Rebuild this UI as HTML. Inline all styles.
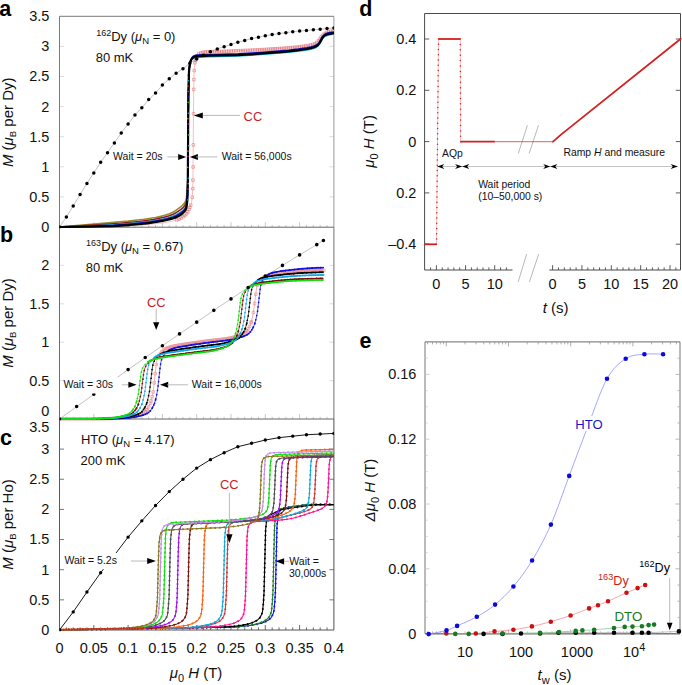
<!DOCTYPE html>
<html><head><meta charset="utf-8"><style>
html,body{margin:0;padding:0;background:#fff;}
svg{display:block;font-family:"Liberation Sans", sans-serif;}
</style></head><body>
<svg width="682" height="685" viewBox="0 0 682 685">
<rect width="682" height="685" fill="#fff"/>
<defs><clipPath id="ca"><rect x="59.5" y="16.3" width="274.4" height="212.29999999999998"/></clipPath><clipPath id="cb"><rect x="59.5" y="227" width="274.4" height="193.5"/></clipPath><clipPath id="cc"><rect x="59.5" y="419" width="274.4" height="212.5"/></clipPath></defs>
<line x1="59.5" y1="196.9" x2="64" y2="196.9" stroke="#d4d4d4" stroke-width="0.8" />
<line x1="333.9" y1="196.9" x2="329.4" y2="196.9" stroke="#d4d4d4" stroke-width="0.8" />
<line x1="59.5" y1="166.8" x2="64" y2="166.8" stroke="#d4d4d4" stroke-width="0.8" />
<line x1="333.9" y1="166.8" x2="329.4" y2="166.8" stroke="#d4d4d4" stroke-width="0.8" />
<line x1="59.5" y1="136.7" x2="64" y2="136.7" stroke="#d4d4d4" stroke-width="0.8" />
<line x1="333.9" y1="136.7" x2="329.4" y2="136.7" stroke="#d4d4d4" stroke-width="0.8" />
<line x1="59.5" y1="106.6" x2="64" y2="106.6" stroke="#d4d4d4" stroke-width="0.8" />
<line x1="333.9" y1="106.6" x2="329.4" y2="106.6" stroke="#d4d4d4" stroke-width="0.8" />
<line x1="59.5" y1="76.5" x2="64" y2="76.5" stroke="#d4d4d4" stroke-width="0.8" />
<line x1="333.9" y1="76.5" x2="329.4" y2="76.5" stroke="#d4d4d4" stroke-width="0.8" />
<line x1="59.5" y1="46.4" x2="64" y2="46.4" stroke="#d4d4d4" stroke-width="0.8" />
<line x1="333.9" y1="46.4" x2="329.4" y2="46.4" stroke="#d4d4d4" stroke-width="0.8" />
<line x1="59.5" y1="380.6" x2="64" y2="380.6" stroke="#d4d4d4" stroke-width="0.8" />
<line x1="333.9" y1="380.6" x2="329.4" y2="380.6" stroke="#d4d4d4" stroke-width="0.8" />
<line x1="59.5" y1="342.2" x2="64" y2="342.2" stroke="#d4d4d4" stroke-width="0.8" />
<line x1="333.9" y1="342.2" x2="329.4" y2="342.2" stroke="#d4d4d4" stroke-width="0.8" />
<line x1="59.5" y1="303.8" x2="64" y2="303.8" stroke="#d4d4d4" stroke-width="0.8" />
<line x1="333.9" y1="303.8" x2="329.4" y2="303.8" stroke="#d4d4d4" stroke-width="0.8" />
<line x1="59.5" y1="265.4" x2="64" y2="265.4" stroke="#d4d4d4" stroke-width="0.8" />
<line x1="333.9" y1="265.4" x2="329.4" y2="265.4" stroke="#d4d4d4" stroke-width="0.8" />
<line x1="59.5" y1="599.85" x2="64" y2="599.85" stroke="#555" stroke-width="0.8" />
<line x1="333.9" y1="599.85" x2="329.4" y2="599.85" stroke="#555" stroke-width="0.8" />
<line x1="59.5" y1="569.7" x2="64" y2="569.7" stroke="#555" stroke-width="0.8" />
<line x1="333.9" y1="569.7" x2="329.4" y2="569.7" stroke="#555" stroke-width="0.8" />
<line x1="59.5" y1="539.55" x2="64" y2="539.55" stroke="#555" stroke-width="0.8" />
<line x1="333.9" y1="539.55" x2="329.4" y2="539.55" stroke="#555" stroke-width="0.8" />
<line x1="59.5" y1="509.4" x2="64" y2="509.4" stroke="#555" stroke-width="0.8" />
<line x1="333.9" y1="509.4" x2="329.4" y2="509.4" stroke="#555" stroke-width="0.8" />
<line x1="59.5" y1="479.25" x2="64" y2="479.25" stroke="#555" stroke-width="0.8" />
<line x1="333.9" y1="479.25" x2="329.4" y2="479.25" stroke="#555" stroke-width="0.8" />
<line x1="59.5" y1="449.1" x2="64" y2="449.1" stroke="#555" stroke-width="0.8" />
<line x1="333.9" y1="449.1" x2="329.4" y2="449.1" stroke="#555" stroke-width="0.8" />
<line x1="66.36" y1="227.2" x2="66.36" y2="225" stroke="#bbb" stroke-width="0.8" />
<line x1="73.22" y1="227.2" x2="73.22" y2="225" stroke="#bbb" stroke-width="0.8" />
<line x1="80.08" y1="227.2" x2="80.08" y2="225" stroke="#bbb" stroke-width="0.8" />
<line x1="86.94" y1="227.2" x2="86.94" y2="225" stroke="#bbb" stroke-width="0.8" />
<line x1="93.8" y1="227.2" x2="93.8" y2="222.2" stroke="#bbb" stroke-width="0.8" />
<line x1="100.66" y1="227.2" x2="100.66" y2="225" stroke="#bbb" stroke-width="0.8" />
<line x1="107.52" y1="227.2" x2="107.52" y2="225" stroke="#bbb" stroke-width="0.8" />
<line x1="114.38" y1="227.2" x2="114.38" y2="225" stroke="#bbb" stroke-width="0.8" />
<line x1="121.24" y1="227.2" x2="121.24" y2="225" stroke="#bbb" stroke-width="0.8" />
<line x1="128.1" y1="227.2" x2="128.1" y2="222.2" stroke="#bbb" stroke-width="0.8" />
<line x1="134.96" y1="227.2" x2="134.96" y2="225" stroke="#bbb" stroke-width="0.8" />
<line x1="141.82" y1="227.2" x2="141.82" y2="225" stroke="#bbb" stroke-width="0.8" />
<line x1="148.68" y1="227.2" x2="148.68" y2="225" stroke="#bbb" stroke-width="0.8" />
<line x1="155.54" y1="227.2" x2="155.54" y2="225" stroke="#bbb" stroke-width="0.8" />
<line x1="162.4" y1="227.2" x2="162.4" y2="222.2" stroke="#bbb" stroke-width="0.8" />
<line x1="169.26" y1="227.2" x2="169.26" y2="225" stroke="#bbb" stroke-width="0.8" />
<line x1="176.12" y1="227.2" x2="176.12" y2="225" stroke="#bbb" stroke-width="0.8" />
<line x1="182.98" y1="227.2" x2="182.98" y2="225" stroke="#bbb" stroke-width="0.8" />
<line x1="189.84" y1="227.2" x2="189.84" y2="225" stroke="#bbb" stroke-width="0.8" />
<line x1="196.7" y1="227.2" x2="196.7" y2="222.2" stroke="#bbb" stroke-width="0.8" />
<line x1="203.56" y1="227.2" x2="203.56" y2="225" stroke="#bbb" stroke-width="0.8" />
<line x1="210.42" y1="227.2" x2="210.42" y2="225" stroke="#bbb" stroke-width="0.8" />
<line x1="217.28" y1="227.2" x2="217.28" y2="225" stroke="#bbb" stroke-width="0.8" />
<line x1="224.14" y1="227.2" x2="224.14" y2="225" stroke="#bbb" stroke-width="0.8" />
<line x1="231" y1="227.2" x2="231" y2="222.2" stroke="#bbb" stroke-width="0.8" />
<line x1="237.86" y1="227.2" x2="237.86" y2="225" stroke="#bbb" stroke-width="0.8" />
<line x1="244.72" y1="227.2" x2="244.72" y2="225" stroke="#bbb" stroke-width="0.8" />
<line x1="251.58" y1="227.2" x2="251.58" y2="225" stroke="#bbb" stroke-width="0.8" />
<line x1="258.44" y1="227.2" x2="258.44" y2="225" stroke="#bbb" stroke-width="0.8" />
<line x1="265.3" y1="227.2" x2="265.3" y2="222.2" stroke="#bbb" stroke-width="0.8" />
<line x1="272.16" y1="227.2" x2="272.16" y2="225" stroke="#bbb" stroke-width="0.8" />
<line x1="279.02" y1="227.2" x2="279.02" y2="225" stroke="#bbb" stroke-width="0.8" />
<line x1="285.88" y1="227.2" x2="285.88" y2="225" stroke="#bbb" stroke-width="0.8" />
<line x1="292.74" y1="227.2" x2="292.74" y2="225" stroke="#bbb" stroke-width="0.8" />
<line x1="299.6" y1="227.2" x2="299.6" y2="222.2" stroke="#bbb" stroke-width="0.8" />
<line x1="306.46" y1="227.2" x2="306.46" y2="225" stroke="#bbb" stroke-width="0.8" />
<line x1="313.32" y1="227.2" x2="313.32" y2="225" stroke="#bbb" stroke-width="0.8" />
<line x1="320.18" y1="227.2" x2="320.18" y2="225" stroke="#bbb" stroke-width="0.8" />
<line x1="327.04" y1="227.2" x2="327.04" y2="225" stroke="#bbb" stroke-width="0.8" />
<line x1="66.36" y1="419" x2="66.36" y2="416.8" stroke="#bbb" stroke-width="0.8" />
<line x1="73.22" y1="419" x2="73.22" y2="416.8" stroke="#bbb" stroke-width="0.8" />
<line x1="80.08" y1="419" x2="80.08" y2="416.8" stroke="#bbb" stroke-width="0.8" />
<line x1="86.94" y1="419" x2="86.94" y2="416.8" stroke="#bbb" stroke-width="0.8" />
<line x1="93.8" y1="419" x2="93.8" y2="414" stroke="#bbb" stroke-width="0.8" />
<line x1="100.66" y1="419" x2="100.66" y2="416.8" stroke="#bbb" stroke-width="0.8" />
<line x1="107.52" y1="419" x2="107.52" y2="416.8" stroke="#bbb" stroke-width="0.8" />
<line x1="114.38" y1="419" x2="114.38" y2="416.8" stroke="#bbb" stroke-width="0.8" />
<line x1="121.24" y1="419" x2="121.24" y2="416.8" stroke="#bbb" stroke-width="0.8" />
<line x1="128.1" y1="419" x2="128.1" y2="414" stroke="#bbb" stroke-width="0.8" />
<line x1="134.96" y1="419" x2="134.96" y2="416.8" stroke="#bbb" stroke-width="0.8" />
<line x1="141.82" y1="419" x2="141.82" y2="416.8" stroke="#bbb" stroke-width="0.8" />
<line x1="148.68" y1="419" x2="148.68" y2="416.8" stroke="#bbb" stroke-width="0.8" />
<line x1="155.54" y1="419" x2="155.54" y2="416.8" stroke="#bbb" stroke-width="0.8" />
<line x1="162.4" y1="419" x2="162.4" y2="414" stroke="#bbb" stroke-width="0.8" />
<line x1="169.26" y1="419" x2="169.26" y2="416.8" stroke="#bbb" stroke-width="0.8" />
<line x1="176.12" y1="419" x2="176.12" y2="416.8" stroke="#bbb" stroke-width="0.8" />
<line x1="182.98" y1="419" x2="182.98" y2="416.8" stroke="#bbb" stroke-width="0.8" />
<line x1="189.84" y1="419" x2="189.84" y2="416.8" stroke="#bbb" stroke-width="0.8" />
<line x1="196.7" y1="419" x2="196.7" y2="414" stroke="#bbb" stroke-width="0.8" />
<line x1="203.56" y1="419" x2="203.56" y2="416.8" stroke="#bbb" stroke-width="0.8" />
<line x1="210.42" y1="419" x2="210.42" y2="416.8" stroke="#bbb" stroke-width="0.8" />
<line x1="217.28" y1="419" x2="217.28" y2="416.8" stroke="#bbb" stroke-width="0.8" />
<line x1="224.14" y1="419" x2="224.14" y2="416.8" stroke="#bbb" stroke-width="0.8" />
<line x1="231" y1="419" x2="231" y2="414" stroke="#bbb" stroke-width="0.8" />
<line x1="237.86" y1="419" x2="237.86" y2="416.8" stroke="#bbb" stroke-width="0.8" />
<line x1="244.72" y1="419" x2="244.72" y2="416.8" stroke="#bbb" stroke-width="0.8" />
<line x1="251.58" y1="419" x2="251.58" y2="416.8" stroke="#bbb" stroke-width="0.8" />
<line x1="258.44" y1="419" x2="258.44" y2="416.8" stroke="#bbb" stroke-width="0.8" />
<line x1="265.3" y1="419" x2="265.3" y2="414" stroke="#bbb" stroke-width="0.8" />
<line x1="272.16" y1="419" x2="272.16" y2="416.8" stroke="#bbb" stroke-width="0.8" />
<line x1="279.02" y1="419" x2="279.02" y2="416.8" stroke="#bbb" stroke-width="0.8" />
<line x1="285.88" y1="419" x2="285.88" y2="416.8" stroke="#bbb" stroke-width="0.8" />
<line x1="292.74" y1="419" x2="292.74" y2="416.8" stroke="#bbb" stroke-width="0.8" />
<line x1="299.6" y1="419" x2="299.6" y2="414" stroke="#bbb" stroke-width="0.8" />
<line x1="306.46" y1="419" x2="306.46" y2="416.8" stroke="#bbb" stroke-width="0.8" />
<line x1="313.32" y1="419" x2="313.32" y2="416.8" stroke="#bbb" stroke-width="0.8" />
<line x1="320.18" y1="419" x2="320.18" y2="416.8" stroke="#bbb" stroke-width="0.8" />
<line x1="327.04" y1="419" x2="327.04" y2="416.8" stroke="#bbb" stroke-width="0.8" />
<line x1="66.36" y1="630" x2="66.36" y2="627.4" stroke="#444" stroke-width="0.8" />
<line x1="73.22" y1="630" x2="73.22" y2="627.4" stroke="#444" stroke-width="0.8" />
<line x1="80.08" y1="630" x2="80.08" y2="627.4" stroke="#444" stroke-width="0.8" />
<line x1="86.94" y1="630" x2="86.94" y2="627.4" stroke="#444" stroke-width="0.8" />
<line x1="93.8" y1="630" x2="93.8" y2="625" stroke="#444" stroke-width="0.8" />
<line x1="100.66" y1="630" x2="100.66" y2="627.4" stroke="#444" stroke-width="0.8" />
<line x1="107.52" y1="630" x2="107.52" y2="627.4" stroke="#444" stroke-width="0.8" />
<line x1="114.38" y1="630" x2="114.38" y2="627.4" stroke="#444" stroke-width="0.8" />
<line x1="121.24" y1="630" x2="121.24" y2="627.4" stroke="#444" stroke-width="0.8" />
<line x1="128.1" y1="630" x2="128.1" y2="625" stroke="#444" stroke-width="0.8" />
<line x1="134.96" y1="630" x2="134.96" y2="627.4" stroke="#444" stroke-width="0.8" />
<line x1="141.82" y1="630" x2="141.82" y2="627.4" stroke="#444" stroke-width="0.8" />
<line x1="148.68" y1="630" x2="148.68" y2="627.4" stroke="#444" stroke-width="0.8" />
<line x1="155.54" y1="630" x2="155.54" y2="627.4" stroke="#444" stroke-width="0.8" />
<line x1="162.4" y1="630" x2="162.4" y2="625" stroke="#444" stroke-width="0.8" />
<line x1="169.26" y1="630" x2="169.26" y2="627.4" stroke="#444" stroke-width="0.8" />
<line x1="176.12" y1="630" x2="176.12" y2="627.4" stroke="#444" stroke-width="0.8" />
<line x1="182.98" y1="630" x2="182.98" y2="627.4" stroke="#444" stroke-width="0.8" />
<line x1="189.84" y1="630" x2="189.84" y2="627.4" stroke="#444" stroke-width="0.8" />
<line x1="196.7" y1="630" x2="196.7" y2="625" stroke="#444" stroke-width="0.8" />
<line x1="203.56" y1="630" x2="203.56" y2="627.4" stroke="#444" stroke-width="0.8" />
<line x1="210.42" y1="630" x2="210.42" y2="627.4" stroke="#444" stroke-width="0.8" />
<line x1="217.28" y1="630" x2="217.28" y2="627.4" stroke="#444" stroke-width="0.8" />
<line x1="224.14" y1="630" x2="224.14" y2="627.4" stroke="#444" stroke-width="0.8" />
<line x1="231" y1="630" x2="231" y2="625" stroke="#444" stroke-width="0.8" />
<line x1="237.86" y1="630" x2="237.86" y2="627.4" stroke="#444" stroke-width="0.8" />
<line x1="244.72" y1="630" x2="244.72" y2="627.4" stroke="#444" stroke-width="0.8" />
<line x1="251.58" y1="630" x2="251.58" y2="627.4" stroke="#444" stroke-width="0.8" />
<line x1="258.44" y1="630" x2="258.44" y2="627.4" stroke="#444" stroke-width="0.8" />
<line x1="265.3" y1="630" x2="265.3" y2="625" stroke="#444" stroke-width="0.8" />
<line x1="272.16" y1="630" x2="272.16" y2="627.4" stroke="#444" stroke-width="0.8" />
<line x1="279.02" y1="630" x2="279.02" y2="627.4" stroke="#444" stroke-width="0.8" />
<line x1="285.88" y1="630" x2="285.88" y2="627.4" stroke="#444" stroke-width="0.8" />
<line x1="292.74" y1="630" x2="292.74" y2="627.4" stroke="#444" stroke-width="0.8" />
<line x1="299.6" y1="630" x2="299.6" y2="625" stroke="#444" stroke-width="0.8" />
<line x1="306.46" y1="630" x2="306.46" y2="627.4" stroke="#444" stroke-width="0.8" />
<line x1="313.32" y1="630" x2="313.32" y2="627.4" stroke="#444" stroke-width="0.8" />
<line x1="320.18" y1="630" x2="320.18" y2="627.4" stroke="#444" stroke-width="0.8" />
<line x1="327.04" y1="630" x2="327.04" y2="627.4" stroke="#444" stroke-width="0.8" />
<line x1="59.5" y1="16.3" x2="59.5" y2="227.2" stroke="#7a7a7a" stroke-width="1" />
<line x1="59.5" y1="227.2" x2="59.5" y2="419" stroke="#6e6e6e" stroke-width="1" />
<line x1="59.5" y1="419" x2="59.5" y2="630" stroke="#5a5a5a" stroke-width="1" />
<line x1="333.9" y1="16.3" x2="333.9" y2="227.2" stroke="#9a9a9a" stroke-width="1" />
<line x1="333.9" y1="227.2" x2="333.9" y2="419" stroke="#707070" stroke-width="1" />
<line x1="333.9" y1="419" x2="333.9" y2="630" stroke="#505050" stroke-width="1" />
<line x1="59.5" y1="16.3" x2="333.9" y2="16.3" stroke="#7a7a7a" stroke-width="1" />
<line x1="59.5" y1="227.2" x2="333.9" y2="227.2" stroke="#666" stroke-width="1" />
<line x1="59.5" y1="419" x2="333.9" y2="419" stroke="#666" stroke-width="1" />
<line x1="59.5" y1="630" x2="333.9" y2="630" stroke="#555" stroke-width="1" />
<g clip-path="url(#ca)">
<path d="M59.5,227 66.36,217.01 86.94,183.42 100.66,162.28 114.38,143.02 121.24,132.91 134.96,115.03 141.82,107.8 148.68,99.56 155.54,93.12 162.4,85.11 169.26,78.67 176.12,73.25 182.98,68.67 189.84,63.26 196.7,59.04 203.56,55.13 210.42,51.82 217.28,48.93 231,44.59 237.86,42.19 251.58,38.57 265.3,35.68 292.74,31.65 333.9,27.98" stroke="#9a9a9a" stroke-width="0.6" fill="none" stroke-linejoin="round" stroke-linecap="round" />
<path d="M59.5,227 86.96,226.84 115.51,226.38 131.62,225.66 148.65,224.38 162.74,222.94 167.69,222.16 172.26,221.21 178.67,219.33 181.05,218.08 184.34,215.94 185.99,214.52 187.09,213.04 188.37,210.61 190.2,206.44 191.48,202.39 192.22,197.36 192.76,188.6 192.95,180.11 193.68,89.4 194.05,74.22 194.41,67.9 195.33,60.47 196.24,57.49 197.71,54.89 198.81,53.96 200.64,52.93 202.28,52.34 203.93,52.09 211.8,51.62 228.46,51.17 245.48,50.44 272.58,48.97 292.53,47.48 307.17,45.7 313.21,44.25 314.68,43.72 316.14,42.87 318.71,40.65 322,35.8 324.2,33.86 325.85,32.75 326.94,32.28 329.87,31.52 333.9,31.05" stroke="#f2a4a4" stroke-width="0.7" fill="none" stroke-linejoin="round" stroke-linecap="round" />
<path d="M175.54,218.68h2.6v2.6h-2.6zM177.74,217.87h2.6v2.6h-2.6zM179.75,216.78h2.6v2.6h-2.6zM181.76,215.5h2.6v2.6h-2.6zM183.59,214.23h2.6v2.6h-2.6zM185.24,212.56h2.6v2.6h-2.6zM186.52,210.42h2.6v2.6h-2.6zM187.62,208.1h2.6v2.6h-2.6zM188.54,205.97h2.6v2.6h-2.6zM189.45,203.74h2.6v2.6h-2.6zM190.92,196.06h2.6v2.6h-2.6zM191.46,187.3h2.6v2.6h-2.6zM191.65,178.81h2.6v2.6h-2.6zM191.83,165.69h2.6v2.6h-2.6zM192.01,143.6h2.6v2.6h-2.6zM192.2,112.4h2.6v2.6h-2.6zM192.38,88.1h2.6v2.6h-2.6zM192.56,78.27h2.6v2.6h-2.6zM192.93,69.24h2.6v2.6h-2.6zM193.66,61.51h2.6v2.6h-2.6zM194.03,59.17h2.6v2.6h-2.6zM194.76,56.65h2.6v2.6h-2.6zM195.86,54.35h2.6v2.6h-2.6zM197.51,52.66h2.6v2.6h-2.6zM199.52,51.54h2.6v2.6h-2.6zM201.72,50.89h2.6v2.6h-2.6zM203.91,50.69h2.6v2.6h-2.6zM206.11,50.54h2.6v2.6h-2.6zM208.49,50.41h2.6v2.6h-2.6zM210.87,50.31h2.6v2.6h-2.6zM213.25,50.23h2.6v2.6h-2.6zM215.63,50.16h2.6v2.6h-2.6zM218.01,50.11h2.6v2.6h-2.6zM220.39,50.05h2.6v2.6h-2.6zM222.77,50h2.6v2.6h-2.6zM225.15,49.93h2.6v2.6h-2.6zM227.53,49.85h2.6v2.6h-2.6zM229.91,49.76h2.6v2.6h-2.6zM232.29,49.66h2.6v2.6h-2.6zM234.67,49.56h2.6v2.6h-2.6zM237.05,49.45h2.6v2.6h-2.6zM239.42,49.35h2.6v2.6h-2.6zM241.8,49.25h2.6v2.6h-2.6zM244.18,49.14h2.6v2.6h-2.6zM246.56,49.03h2.6v2.6h-2.6zM248.94,48.92h2.6v2.6h-2.6zM251.32,48.8h2.6v2.6h-2.6zM253.7,48.68h2.6v2.6h-2.6zM256.08,48.56h2.6v2.6h-2.6zM258.46,48.43h2.6v2.6h-2.6zM260.66,48.31h2.6v2.6h-2.6zM262.86,48.18h2.6v2.6h-2.6zM265.05,48.05h2.6v2.6h-2.6zM267.25,47.91h2.6v2.6h-2.6zM269.45,47.78h2.6v2.6h-2.6zM271.64,47.65h2.6v2.6h-2.6zM273.84,47.51h2.6v2.6h-2.6zM276.04,47.37h2.6v2.6h-2.6zM278.23,47.22h2.6v2.6h-2.6zM280.43,47.06h2.6v2.6h-2.6zM282.63,46.9h2.6v2.6h-2.6zM284.82,46.73h2.6v2.6h-2.6zM287.02,46.55h2.6v2.6h-2.6zM289.22,46.36h2.6v2.6h-2.6zM291.41,46.16h2.6v2.6h-2.6zM293.61,45.94h2.6v2.6h-2.6zM295.81,45.71h2.6v2.6h-2.6zM298,45.47h2.6v2.6h-2.6zM300.2,45.21h2.6v2.6h-2.6zM302.4,44.92h2.6v2.6h-2.6zM304.59,44.61h2.6v2.6h-2.6zM306.79,44.23h2.6v2.6h-2.6zM308.99,43.76h2.6v2.6h-2.6zM311.18,43.18h2.6v2.6h-2.6zM313.38,42.42h2.6v2.6h-2.6zM315.39,41.17h2.6v2.6h-2.6zM317.22,39.57h2.6v2.6h-2.6zM318.5,37.75h2.6v2.6h-2.6zM319.79,35.71h2.6v2.6h-2.6zM321.25,33.98h2.6v2.6h-2.6zM323.08,32.42h2.6v2.6h-2.6zM325.09,31.19h2.6v2.6h-2.6zM327.29,30.53h2.6v2.6h-2.6zM329.49,30.04h2.6v2.6h-2.6zM331.68,29.78h2.6v2.6h-2.6z" stroke="#de6464" stroke-width="0.5" fill="none"/>
<path d="M59.5,227 128.15,221.11 144.07,219.26 155.6,217.44 160.73,216.38 164.94,215.29 168.78,214.02 172.45,212.51 174.09,211.54 181.05,206.65 182.51,205.41 184.16,203.59 185.44,201.38 186.36,198.31 187.09,192.37 187.64,185.51 187.82,179.78 188.37,97.27 188.92,72.84 189.29,68.06 190.2,62.34 190.57,61.08 191.3,59.57 192.03,58.51 192.76,57.82 194.78,56.79 196.79,56.33 209.42,55.7 237.25,55.11 250.79,54.4 286.31,51.58 297.47,50.36 306.99,49 310.84,48.2 314.13,47.26 315.78,46.54 317.43,45.47 318.52,44.46 319.8,42.7 322.55,37.65 323.83,36.25 325.11,35.25 328.41,34.05 333.9,33.16" stroke="#9a8a30" stroke-width="1.6" fill="none" stroke-linejoin="round" stroke-linecap="round" />
<path d="M59.5,227 98.86,224.73 120.64,223.17 139.13,221.39 153.59,219.42 164.21,217.28 168.6,216.01 172.63,214.54 175.01,213.28 180.68,209.68 182.51,208.2 184.34,206.26 185.81,203.58 186.54,200.67 187.27,194.21 187.64,186.98 187.82,179.44 188.37,97.27 188.92,72.84 189.29,68.06 190.2,62.34 190.57,61.08 191.3,59.57 192.03,58.51 192.76,57.82 194.78,56.79 196.79,56.33 209.42,55.7 237.25,55.11 250.79,54.4 286.31,51.58 297.47,50.36 306.99,49 310.84,48.2 314.13,47.26 315.78,46.54 317.43,45.47 318.52,44.46 319.8,42.7 322.55,37.65 323.83,36.25 325.11,35.25 328.41,34.05 333.9,33.16" stroke="#8a1a1a" stroke-width="1.5" fill="none" stroke-linejoin="round" stroke-linecap="round" />
<path d="M59.5,227 96.29,225.68 114.78,224.75 135.47,223.07 151.39,221.14 163.48,218.98 168.42,217.72 172.81,216.3 175.92,214.86 180.13,212.43 182.33,210.76 184.53,208.53 185.81,206.25 186.54,203.64 187.09,199.46 187.46,193.95 187.82,179.18 188.37,97.27 188.92,72.84 189.29,68.06 190.2,62.23 190.75,60.7 192.22,59.11 194.59,57.85 196.61,57.3 209.42,56.66 237.43,56.07 250.79,55.36 286.31,52.54 297.47,51.32 306.99,49.96 310.84,49.16 314.13,48.22 315.78,47.5 317.43,46.43 318.52,45.42 319.8,43.67 322.55,38.61 323.83,37.22 325.11,36.22 328.41,35.02 333.9,34.12" stroke="#10b0e0" stroke-width="1.5" fill="none" stroke-linejoin="round" stroke-linecap="round" />
<path d="M59.5,227 94.83,226.11 113.5,225.38 133.64,223.87 149.56,222.08 162.93,219.86 168.23,218.59 172.99,217.15 176.29,215.75 179.95,213.73 182.33,211.96 184.53,209.79 185.81,207.59 186.54,205.11 187.09,201.06 187.46,195.21 187.82,179.06 188.37,97.27 188.92,72.84 189.47,66.56 190.2,62.44 191.67,58.32 192.4,57.04 192.95,56.5 194.41,55.71 195.69,55.28 200.27,54.89 210.89,54.46 238.53,53.86 259.58,52.56 288.32,50.18 298.2,49.06 306.81,47.82 310.65,47.04 314.13,46.06 315.78,45.33 317.43,44.27 318.52,43.25 319.8,41.5 322.55,36.44 323.83,35.05 325.11,34.05 328.41,32.85 333.9,31.95" stroke="#1010c0" stroke-width="1.6" fill="none" stroke-linejoin="round" stroke-linecap="round" />
<path d="M59.5,227 91.9,226.66 112.77,226.16 129.79,225.03 147.18,223.29 162.38,220.97 168.23,219.68 173.73,218.15 177.02,216.89 179.95,215.31 182.33,213.55 184.71,211.24 185.81,209.38 186.54,207.06 187.27,201.2 187.46,196.88 187.82,178.9 188.37,97.27 188.92,72.84 189.29,68.06 190.2,62.34 190.57,61.08 191.3,59.57 192.03,58.51 192.76,57.82 194.78,56.79 196.79,56.33 209.42,55.7 237.25,55.11 250.79,54.4 286.31,51.58 297.47,50.36 306.99,49 310.84,48.2 314.13,47.26 315.78,46.54 317.43,45.47 318.52,44.46 319.8,42.7 322.55,37.65 323.83,36.25 325.11,35.25 328.41,34.05 333.9,33.16" stroke="#000" stroke-width="2.2" fill="none" stroke-linejoin="round" stroke-linecap="round" />
<path d="M187.93,199.91h0" stroke="#20c020" stroke-width="1.6" stroke-linecap="round" fill="none" />
<path d="M188.24,194.49h0" stroke="#1010e0" stroke-width="1.6" stroke-linecap="round" fill="none" />
<path d="M188.06,189.07h0" stroke="#e010e0" stroke-width="1.6" stroke-linecap="round" fill="none" />
<path d="M188.3,183.66h0" stroke="#e07000" stroke-width="1.6" stroke-linecap="round" fill="none" />
<path d="M188.32,178.24h0" stroke="#00b0e0" stroke-width="1.6" stroke-linecap="round" fill="none" />
<path d="M187.76,172.82h0" stroke="#000" stroke-width="1.6" stroke-linecap="round" fill="none" />
<path d="M187.71,167.4h0" stroke="#20c020" stroke-width="1.6" stroke-linecap="round" fill="none" />
<path d="M188.53,161.98h0" stroke="#1010e0" stroke-width="1.6" stroke-linecap="round" fill="none" />
<path d="M187.95,156.57h0" stroke="#e010e0" stroke-width="1.6" stroke-linecap="round" fill="none" />
<path d="M187.93,151.15h0" stroke="#e07000" stroke-width="1.6" stroke-linecap="round" fill="none" />
<path d="M188.69,145.73h0" stroke="#00b0e0" stroke-width="1.6" stroke-linecap="round" fill="none" />
<path d="M188.16,140.31h0" stroke="#000" stroke-width="1.6" stroke-linecap="round" fill="none" />
<path d="M188.53,134.89h0" stroke="#20c020" stroke-width="1.6" stroke-linecap="round" fill="none" />
<path d="M188.17,129.48h0" stroke="#1010e0" stroke-width="1.6" stroke-linecap="round" fill="none" />
<path d="M188.33,124.06h0" stroke="#e010e0" stroke-width="1.6" stroke-linecap="round" fill="none" />
<path d="M187.84,118.64h0" stroke="#e07000" stroke-width="1.6" stroke-linecap="round" fill="none" />
<path d="M188.33,113.22h0" stroke="#00b0e0" stroke-width="1.6" stroke-linecap="round" fill="none" />
<path d="M188.56,107.8h0" stroke="#000" stroke-width="1.6" stroke-linecap="round" fill="none" />
<path d="M188.22,102.39h0" stroke="#20c020" stroke-width="1.6" stroke-linecap="round" fill="none" />
<path d="M188.43,96.97h0" stroke="#1010e0" stroke-width="1.6" stroke-linecap="round" fill="none" />
<path d="M188.37,91.55h0" stroke="#e010e0" stroke-width="1.6" stroke-linecap="round" fill="none" />
<path d="M187.76,86.13h0" stroke="#e07000" stroke-width="1.6" stroke-linecap="round" fill="none" />
<path d="M188.45,80.71h0" stroke="#00b0e0" stroke-width="1.6" stroke-linecap="round" fill="none" />
<path d="M188.28,75.3h0" stroke="#000" stroke-width="1.6" stroke-linecap="round" fill="none" />
<path d="M59.5,227h0M66.36,217.01h0M73.22,205.93h0M80.08,194.61h0M86.94,183.42h0M93.8,173.06h0M100.66,162.28h0M107.52,152.65h0M114.38,143.02h0M121.24,132.91h0M128.1,124.06h0M134.96,115.03h0M141.82,107.8h0M148.68,99.56h0M155.54,93.12h0M162.4,85.11h0M169.26,78.67h0M176.12,73.25h0M182.98,68.67h0M189.84,63.26h0M196.7,59.04h0M203.56,55.13h0M210.42,51.82h0M217.28,48.93h0M224.14,46.64h0M231,44.59h0M237.86,42.19h0M244.72,40.38h0M251.58,38.57h0M258.44,37.19h0M265.3,35.68h0M272.16,34.6h0M279.02,33.58h0M285.88,32.67h0M292.74,31.65h0M299.6,31.05h0M306.46,30.39h0M313.32,29.78h0M320.18,29.24h0M327.04,28.58h0M333.9,27.98h0" stroke="#000" stroke-width="3.5" stroke-linecap="round" fill="none" />
</g>
<g clip-path="url(#cb)">
<path d="M59.5,419 128.1,369.62 145.25,357.56 213.85,310.33 265.3,276.08 299.6,254.88 316.75,244.66 323.4,240.44" stroke="#9a9a9a" stroke-width="0.6" fill="none" stroke-linejoin="round" stroke-linecap="round" />
<path d="M59.5,419 100.19,418.94 111.74,418.59 124.35,417.89 129.63,417.22 136.25,415.79 140.13,414.61 143.28,413.15 145.24,411.75 147.1,409.5 149.13,406 150.62,402.49 152.07,396.99 153.52,389.28 156.1,365.79 156.96,360.28 158.07,357.25 159.36,354.9 161.9,351.78 164.15,349.62 165.64,348.67 168.28,347.67 171.62,346.68 175.34,345.84 186.53,343.99 199.72,342.09 226.67,338.74 231.03,337.83 236.5,336.39 239.6,335.38 242.23,334.25 244.68,332.81 246.57,330.92 248.75,327.71 250.56,324.01 252.01,319.16 253.51,312.14 256.09,291.41 256.92,286.5 257.92,283.97 259.16,281.88 261.16,279.62 263.39,277.6 265.46,276.32 268.46,275.37 272.95,274.37 278.36,273.58 291.01,272.18 302.01,271.22 311.35,270.67 323.45,270.3" stroke="#f2a8a8" stroke-width="0.9" fill="none"/>
<path d="M58.2,417.7h2.6v2.6h-2.6zM59.92,417.7h2.6v2.6h-2.6zM61.63,417.7h2.6v2.6h-2.6zM63.34,417.7h2.6v2.6h-2.6zM65.06,417.7h2.6v2.6h-2.6zM66.78,417.7h2.6v2.6h-2.6zM68.49,417.7h2.6v2.6h-2.6zM70.2,417.7h2.6v2.6h-2.6zM71.92,417.7h2.6v2.6h-2.6zM73.64,417.7h2.6v2.6h-2.6zM75.35,417.7h2.6v2.6h-2.6zM77.06,417.7h2.6v2.6h-2.6zM78.78,417.7h2.6v2.6h-2.6zM80.5,417.7h2.6v2.6h-2.6zM82.21,417.7h2.6v2.6h-2.6zM83.92,417.7h2.6v2.6h-2.6zM85.64,417.7h2.6v2.6h-2.6zM87.36,417.7h2.6v2.6h-2.6zM89.07,417.7h2.6v2.6h-2.6zM90.79,417.7h2.6v2.6h-2.6zM92.5,417.7h2.6v2.6h-2.6zM94.22,417.69h2.6v2.6h-2.6zM95.93,417.68h2.6v2.6h-2.6zM97.64,417.66h2.6v2.6h-2.6zM99.36,417.63h2.6v2.6h-2.6zM101.08,417.6h2.6v2.6h-2.6zM102.79,417.55h2.6v2.6h-2.6zM104.51,417.51h2.6v2.6h-2.6zM106.22,417.45h2.6v2.6h-2.6zM107.94,417.39h2.6v2.6h-2.6zM109.65,417.32h2.6v2.6h-2.6zM111.36,417.25h2.6v2.6h-2.6zM113.08,417.17h2.6v2.6h-2.6zM114.8,417.08h2.6v2.6h-2.6zM116.51,416.99h2.6v2.6h-2.6zM118.23,416.89h2.6v2.6h-2.6zM119.94,416.79h2.6v2.6h-2.6zM121.66,416.68h2.6v2.6h-2.6zM123.37,416.57h2.6v2.6h-2.6zM125.09,416.4h2.6v2.6h-2.6zM126.8,416.17h2.6v2.6h-2.6zM128.51,415.88h2.6v2.6h-2.6zM130.23,415.55h2.6v2.6h-2.6zM131.94,415.19h2.6v2.6h-2.6zM133.66,414.8h2.6v2.6h-2.6zM135.38,414.38h2.6v2.6h-2.6zM137.09,413.9h2.6v2.6h-2.6zM138.81,413.32h2.6v2.6h-2.6zM140.52,412.6h2.6v2.6h-2.6zM142.23,411.7h2.6v2.6h-2.6zM143.95,410.44h2.6v2.6h-2.6zM145.66,408.4h2.6v2.6h-2.6zM147.38,405.58h2.6v2.6h-2.6zM149.09,401.85h2.6v2.6h-2.6zM150.81,395.5h2.6v2.6h-2.6zM159.18,352.13h2.6v2.6h-2.6zM160.69,350.38h2.6v2.6h-2.6zM162.2,348.87h2.6v2.6h-2.6zM163.71,347.72h2.6v2.6h-2.6zM165.22,347.01h2.6v2.6h-2.6zM166.73,346.45h2.6v2.6h-2.6zM168.23,345.96h2.6v2.6h-2.6zM169.74,345.53h2.6v2.6h-2.6zM171.25,345.14h2.6v2.6h-2.6zM172.76,344.8h2.6v2.6h-2.6zM174.27,344.49h2.6v2.6h-2.6zM175.78,344.21h2.6v2.6h-2.6zM177.29,343.95h2.6v2.6h-2.6zM178.8,343.71h2.6v2.6h-2.6zM180.31,343.46h2.6v2.6h-2.6zM181.82,343.22h2.6v2.6h-2.6zM183.33,342.98h2.6v2.6h-2.6zM184.84,342.75h2.6v2.6h-2.6zM186.34,342.52h2.6v2.6h-2.6zM187.85,342.29h2.6v2.6h-2.6zM189.36,342.07h2.6v2.6h-2.6zM190.87,341.85h2.6v2.6h-2.6zM192.38,341.63h2.6v2.6h-2.6zM193.89,341.42h2.6v2.6h-2.6zM195.4,341.21h2.6v2.6h-2.6zM196.91,341h2.6v2.6h-2.6zM198.42,340.79h2.6v2.6h-2.6zM199.93,340.58h2.6v2.6h-2.6zM201.44,340.38h2.6v2.6h-2.6zM202.95,340.18h2.6v2.6h-2.6zM204.46,339.98h2.6v2.6h-2.6zM205.96,339.78h2.6v2.6h-2.6zM207.47,339.59h2.6v2.6h-2.6zM208.98,339.41h2.6v2.6h-2.6zM210.49,339.23h2.6v2.6h-2.6zM212,339.05h2.6v2.6h-2.6zM213.51,338.88h2.6v2.6h-2.6zM215.02,338.72h2.6v2.6h-2.6zM216.53,338.55h2.6v2.6h-2.6zM218.04,338.38h2.6v2.6h-2.6zM219.55,338.21h2.6v2.6h-2.6zM221.06,338.03h2.6v2.6h-2.6zM222.57,337.85h2.6v2.6h-2.6zM224.07,337.65h2.6v2.6h-2.6zM225.58,337.41h2.6v2.6h-2.6zM227.09,337.12h2.6v2.6h-2.6zM228.6,336.8h2.6v2.6h-2.6zM230.11,336.44h2.6v2.6h-2.6zM231.62,336.06h2.6v2.6h-2.6zM233.13,335.67h2.6v2.6h-2.6zM234.64,335.25h2.6v2.6h-2.6zM236.15,334.81h2.6v2.6h-2.6zM237.66,334.32h2.6v2.6h-2.6zM239.17,333.75h2.6v2.6h-2.6zM240.68,333.08h2.6v2.6h-2.6zM242.19,332.28h2.6v2.6h-2.6zM243.69,331.26h2.6v2.6h-2.6zM245.2,329.71h2.6v2.6h-2.6zM246.71,327.62h2.6v2.6h-2.6zM248.22,325h2.6v2.6h-2.6zM249.73,321.36h2.6v2.6h-2.6zM259.2,279.01h2.6v2.6h-2.6zM260.71,277.49h2.6v2.6h-2.6zM262.22,276.2h2.6v2.6h-2.6zM263.73,275.22h2.6v2.6h-2.6zM265.23,274.63h2.6v2.6h-2.6zM266.74,274.18h2.6v2.6h-2.6zM268.25,273.79h2.6v2.6h-2.6zM269.76,273.44h2.6v2.6h-2.6zM271.27,273.14h2.6v2.6h-2.6zM272.78,272.88h2.6v2.6h-2.6zM274.29,272.65h2.6v2.6h-2.6zM275.8,272.44h2.6v2.6h-2.6zM277.31,272.25h2.6v2.6h-2.6zM278.82,272.07h2.6v2.6h-2.6zM280.33,271.9h2.6v2.6h-2.6zM281.84,271.72h2.6v2.6h-2.6zM283.35,271.55h2.6v2.6h-2.6zM284.85,271.39h2.6v2.6h-2.6zM286.36,271.23h2.6v2.6h-2.6zM287.87,271.07h2.6v2.6h-2.6zM289.38,270.91h2.6v2.6h-2.6zM290.89,270.76h2.6v2.6h-2.6zM292.4,270.62h2.6v2.6h-2.6zM293.91,270.48h2.6v2.6h-2.6zM295.42,270.34h2.6v2.6h-2.6zM296.93,270.22h2.6v2.6h-2.6zM298.44,270.09h2.6v2.6h-2.6zM299.95,269.98h2.6v2.6h-2.6zM301.46,269.87h2.6v2.6h-2.6zM302.96,269.76h2.6v2.6h-2.6zM304.47,269.66h2.6v2.6h-2.6zM305.98,269.57h2.6v2.6h-2.6zM307.49,269.49h2.6v2.6h-2.6zM309,269.42h2.6v2.6h-2.6zM310.51,269.35h2.6v2.6h-2.6zM312.02,269.29h2.6v2.6h-2.6zM313.53,269.24h2.6v2.6h-2.6zM315.04,269.2h2.6v2.6h-2.6zM316.55,269.16h2.6v2.6h-2.6zM318.06,269.12h2.6v2.6h-2.6zM319.57,269.07h2.6v2.6h-2.6zM321.08,269.03h2.6v2.6h-2.6zM322.58,268.99h2.6v2.6h-2.6z" stroke="#e88080" stroke-width="0.55" fill="none"/>
<path d="M145.46,408.69h2.6v2.6h-2.6zM149.79,399.64h2.6v2.6h-2.6zM151.77,390.6h2.6v2.6h-2.6zM152.95,381.54h2.6v2.6h-2.6zM153.94,372.28h2.6v2.6h-2.6zM154.96,363.22h2.6v2.6h-2.6zM157.68,354.2h2.6v2.6h-2.6z" stroke="#e88080" stroke-width="0.55" fill="none"/>
<path d="M245.48,329.37h2.6v2.6h-2.6zM250.06,320.29h2.6v2.6h-2.6zM252.13,311.26h2.6v2.6h-2.6zM253.28,302.19h2.6v2.6h-2.6zM254.42,292.99h2.6v2.6h-2.6zM256.06,283.94h2.6v2.6h-2.6z" stroke="#e88080" stroke-width="0.55" fill="none"/>
<path d="M59.5,419 103.49,418.95 115.59,418.61 128.34,417.92 133.74,417.25 140.54,415.79 144.42,414.61 147.65,413.1 149.51,411.72 151.37,409.43 153.42,405.86 154.81,402.52 156.26,396.98 157.65,389.6 160.19,366.86 161.04,361.29 162.1,358.38 163.37,356.05 165.64,353.22 167.92,350.96 169.52,349.86 171.59,349.03 174.98,347.98 178.83,347.07 200.82,343.65 230.6,339.84 235.05,338.87 240.63,337.33 243.79,336.24 246.42,335.01 248.8,333.5 250.71,331.41 252.89,327.92 254.61,324.11 256.06,318.89 257.5,311.62 260.08,289.7 260.9,284.53 261.86,281.96 263.07,279.77 264.63,277.84 267,275.45 269.07,273.97 271.45,273.07 275.85,271.95 281.11,271.06 293.21,269.63 304.21,268.58 313.55,267.96 323.45,267.61" stroke="#1010e0" stroke-width="0.7" fill="none" stroke-linejoin="round"/>
<path d="M59.5,419 103.49,418.95 115.59,418.61 128.34,417.92 133.74,417.25 140.54,415.79 144.42,414.61 147.65,413.1 149.51,411.72 151.37,409.43 153.42,405.86 154.81,402.52 156.26,396.98 157.65,389.6 160.19,366.86 161.04,361.29 162.1,358.38 163.37,356.05 165.64,353.22 167.92,350.96 169.52,349.86 171.59,349.03 174.98,347.98 178.83,347.07 200.82,343.65 230.6,339.84 235.05,338.87 240.63,337.33 243.79,336.24 246.42,335.01 248.8,333.5 250.71,331.41 252.89,327.92 254.61,324.11 256.06,318.89 257.5,311.62 260.08,289.7 260.9,284.53 261.86,281.96 263.07,279.77 264.63,277.84 267,275.45 269.07,273.97 271.45,273.07 275.85,271.95 281.11,271.06 293.21,269.63 304.21,268.58 313.55,267.96 323.45,267.61" stroke="#1010e0" stroke-width="1.7" fill="none" stroke-linecap="round" stroke-dasharray="0 4.4"/>
<path d="M59.5,419h0M61.22,419h0M62.93,419h0M64.64,419h0M66.36,419h0M68.08,419h0M69.79,419h0M71.5,419h0M73.22,419h0M74.94,419h0M76.65,419h0M78.36,419h0M80.08,419h0M81.8,419h0M83.51,419h0M85.22,419h0M86.94,419h0M88.66,419h0M90.37,419h0M92.09,419h0M93.8,419h0M95.52,419h0M97.23,419h0M98.94,419h0M100.66,418.99h0M102.38,418.97h0M104.09,418.94h0M105.81,418.91h0M107.52,418.87h0M109.23,418.83h0M110.95,418.78h0M112.66,418.72h0M114.38,418.65h0M116.09,418.58h0M117.81,418.51h0M119.53,418.43h0M121.24,418.34h0M122.95,418.25h0M124.67,418.15h0M126.39,418.04h0M128.1,417.94h0M129.81,417.79h0M131.53,417.59h0M133.25,417.33h0M134.96,417.02h0M136.68,416.68h0M138.39,416.3h0M140.11,415.9h0M141.82,415.45h0M143.53,414.93h0M145.25,414.28h0M146.97,413.47h0M148.68,412.44h0M150.4,410.74h0M152.11,408.27h0M153.82,405.03h0M155.54,400.01h0M167.34,351.47h0M168.85,350.27h0M170.36,349.49h0M171.87,348.94h0M173.38,348.44h0M174.89,348h0M176.39,347.61h0M177.9,347.27h0M179.41,346.96h0M180.92,346.68h0M182.43,346.42h0M183.94,346.17h0M185.45,345.93h0M186.96,345.69h0M188.47,345.45h0M189.98,345.22h0M191.49,344.99h0M193,344.76h0M194.5,344.54h0M196.01,344.32h0M197.52,344.11h0M199.03,343.9h0M200.54,343.69h0M202.05,343.48h0M203.56,343.27h0M205.07,343.06h0M206.58,342.85h0M208.09,342.65h0M209.6,342.45h0M211.11,342.25h0M212.62,342.06h0M214.12,341.87h0M215.63,341.68h0M217.14,341.5h0M218.65,341.33h0M220.16,341.16h0M221.67,340.99h0M223.18,340.82h0M224.69,340.64h0M226.2,340.46h0M227.71,340.27h0M229.22,340.07h0M230.73,339.82h0M232.23,339.52h0M233.74,339.19h0M235.25,338.82h0M236.76,338.43h0M238.27,338.02h0M239.78,337.59h0M241.29,337.13h0M242.8,336.61h0M244.31,336.02h0M245.82,335.33h0M247.33,334.5h0M248.84,333.46h0M250.35,331.88h0M251.85,329.72h0M253.36,327h0M254.87,323.31h0M267.22,275.26h0M268.73,274.16h0M270.24,273.47h0M271.75,272.98h0M273.26,272.56h0M274.77,272.19h0M276.28,271.86h0M277.79,271.58h0M279.29,271.33h0M280.8,271.11h0M282.31,270.91h0M283.82,270.72h0M285.33,270.53h0M286.84,270.35h0M288.35,270.18h0M289.86,270h0M291.37,269.83h0M292.88,269.67h0M294.39,269.5h0M295.9,269.35h0M297.4,269.2h0M298.91,269.05h0M300.42,268.91h0M301.93,268.77h0M303.44,268.64h0M304.95,268.52h0M306.46,268.4h0M307.97,268.29h0M309.48,268.19h0M310.99,268.1h0M312.5,268.01h0M314.01,267.93h0M315.52,267.86h0M317.02,267.8h0M318.53,267.75h0M320.04,267.71h0M321.55,267.67h0M323.06,267.62h0" stroke="#1010e0" stroke-width="1.9" stroke-linecap="round" fill="none" />
<path d="M59.5,419 89.74,418.91 112.29,418.04 117.79,417.39 124.61,416.09 128.39,415.03 131.54,413.66 133.74,411.94 135.94,409.11 137.72,405.97 139.09,402.1 141.11,393.3 143.63,373.66 144.55,368.86 145.66,366.37 146.9,364.47 149.3,361.93 151.5,360.08 153.18,359.13 156.05,358.19 159.72,357.27 163.99,356.46 189.83,352.87 211.27,350.29 215.67,349.51 222.38,347.79 226.67,346.36 230.44,344.49 232.51,342.82 234.58,340.08 236.7,336.18 237.74,333.41 238.82,329.38 240.37,321.62 242.91,300.21 243.79,295.16 244.89,292.48 246.16,290.4 248.64,287.64 250.87,285.73 252.22,284.94 253.78,284.38 259.76,282.91 265.34,282.07 278.53,280.58 296.51,279.18 323.45,278.36" stroke="#7a0a0a" stroke-width="0.7" fill="none" stroke-linejoin="round"/>
<path d="M59.5,419 89.74,418.91 112.29,418.04 117.79,417.39 124.61,416.09 128.39,415.03 131.54,413.66 133.74,411.94 135.94,409.11 137.72,405.97 139.09,402.1 141.11,393.3 143.63,373.66 144.55,368.86 145.66,366.37 146.9,364.47 149.3,361.93 151.5,360.08 153.18,359.13 156.05,358.19 159.72,357.27 163.99,356.46 189.83,352.87 211.27,350.29 215.67,349.51 222.38,347.79 226.67,346.36 230.44,344.49 232.51,342.82 234.58,340.08 236.7,336.18 237.74,333.41 238.82,329.38 240.37,321.62 242.91,300.21 243.79,295.16 244.89,292.48 246.16,290.4 248.64,287.64 250.87,285.73 252.22,284.94 253.78,284.38 259.76,282.91 265.34,282.07 278.53,280.58 296.51,279.18 323.45,278.36" stroke="#7a0a0a" stroke-width="1.7" fill="none" stroke-linecap="round" stroke-dasharray="0 4.4"/>
<path d="M59.5,419h0M61.22,419h0M62.93,419h0M64.64,419h0M66.36,419h0M68.08,419h0M69.79,419h0M71.5,419h0M73.22,419h0M74.94,419h0M76.65,419h0M78.36,419h0M80.08,419h0M81.8,419h0M83.51,418.99h0M85.22,418.98h0M86.94,418.96h0M88.66,418.93h0M90.37,418.9h0M92.09,418.87h0M93.8,418.82h0M95.52,418.78h0M97.23,418.72h0M98.94,418.66h0M100.66,418.6h0M102.38,418.53h0M104.09,418.46h0M105.81,418.38h0M107.52,418.29h0M109.23,418.21h0M110.95,418.12h0M112.66,418.01h0M114.38,417.85h0M116.09,417.64h0M117.81,417.39h0M119.53,417.1h0M121.24,416.78h0M122.95,416.44h0M124.67,416.08h0M126.39,415.65h0M128.1,415.13h0M129.81,414.48h0M131.53,413.67h0M133.25,412.42h0M134.96,410.5h0M136.68,407.92h0M138.39,404.3h0M150.74,360.66h0M152.25,359.6h0M153.76,358.92h0M155.27,358.43h0M156.77,357.99h0M158.28,357.6h0M159.79,357.25h0M161.3,356.94h0M162.81,356.66h0M164.32,356.4h0M165.83,356.16h0M167.34,355.94h0M168.85,355.72h0M170.36,355.5h0M171.87,355.28h0M173.38,355.07h0M174.89,354.86h0M176.39,354.65h0M177.9,354.44h0M179.41,354.24h0M180.92,354.05h0M182.43,353.85h0M183.94,353.65h0M185.45,353.45h0M186.96,353.25h0M188.47,353.05h0M189.98,352.85h0M191.49,352.66h0M193,352.46h0M194.5,352.27h0M196.01,352.08h0M197.52,351.9h0M199.03,351.72h0M200.54,351.54h0M202.05,351.37h0M203.56,351.2h0M205.07,351.03h0M206.58,350.85h0M208.09,350.68h0M209.6,350.49h0M211.11,350.31h0M212.62,350.09h0M214.12,349.82h0M215.63,349.51h0M217.14,349.17h0M218.65,348.8h0M220.16,348.4h0M221.67,347.98h0M223.18,347.55h0M224.69,347.08h0M226.2,346.55h0M227.71,345.92h0M229.22,345.19h0M230.73,344.32h0M232.23,343.1h0M233.74,341.31h0M235.25,338.96h0M236.76,336.05h0M238.27,331.57h0M250,286.39h0M251.51,285.31h0M253.02,284.63h0M254.53,284.15h0M256.04,283.73h0M257.55,283.37h0M259.06,283.05h0M260.57,282.77h0M262.08,282.52h0M263.58,282.3h0M265.09,282.1h0M266.6,281.92h0M268.11,281.74h0M269.62,281.56h0M271.13,281.38h0M272.64,281.21h0M274.15,281.04h0M275.66,280.88h0M277.17,280.72h0M278.68,280.57h0M280.19,280.42h0M281.7,280.27h0M283.2,280.13h0M284.71,280h0M286.22,279.87h0M287.73,279.75h0M289.24,279.63h0M290.75,279.52h0M292.26,279.42h0M293.77,279.33h0M295.28,279.24h0M296.79,279.17h0M298.3,279.1h0M299.81,279.04h0M301.31,278.99h0M302.82,278.94h0M304.33,278.9h0M305.84,278.86h0M307.35,278.82h0M308.86,278.77h0M310.37,278.73h0M311.88,278.69h0M313.39,278.65h0M314.9,278.6h0M316.41,278.56h0M317.92,278.52h0M319.43,278.48h0M320.93,278.43h0M322.44,278.39h0" stroke="#7a0a0a" stroke-width="1.9" stroke-linecap="round" fill="none" />
<path d="M59.5,419 96.89,418.93 108.44,418.59 120.54,417.96 125.91,417.3 132.73,415.89 136.56,414.76 139.74,413.31 140.89,412.56 141.98,411.53 144.18,408.56 146.18,404.81 147.52,400.74 149.59,390.96 152.17,368.97 153.1,363.8 154.19,361.16 155.43,359.11 157.86,356.31 159.98,354.37 161.69,353.32 164.61,352.29 168.33,351.28 172.68,350.41 194.23,347.23 219.27,344.09 223.2,343.41 228.37,342.14 233.39,340.63 236.57,339.3 239.24,337.74 241.37,335.54 243.53,332.17 245.13,328.84 246.42,324.6 248.29,315.62 250.87,293.89 251.8,288.65 253.04,285.76 254.49,283.58 257.5,280.44 259.97,278.68 263.92,277.4 268.97,276.33 286.61,274.2 303.11,272.89 323.45,272.22" stroke="#000000" stroke-width="0.7" fill="none" stroke-linejoin="round"/>
<path d="M59.5,419 96.89,418.93 108.44,418.59 120.54,417.96 125.91,417.3 132.73,415.89 136.56,414.76 139.74,413.31 140.89,412.56 141.98,411.53 144.18,408.56 146.18,404.81 147.52,400.74 149.59,390.96 152.17,368.97 153.1,363.8 154.19,361.16 155.43,359.11 157.86,356.31 159.98,354.37 161.69,353.32 164.61,352.29 168.33,351.28 172.68,350.41 194.23,347.23 219.27,344.09 223.2,343.41 228.37,342.14 233.39,340.63 236.57,339.3 239.24,337.74 241.37,335.54 243.53,332.17 245.13,328.84 246.42,324.6 248.29,315.62 250.87,293.89 251.8,288.65 253.04,285.76 254.49,283.58 257.5,280.44 259.97,278.68 263.92,277.4 268.97,276.33 286.61,274.2 303.11,272.89 323.45,272.22" stroke="#000000" stroke-width="1.7" fill="none" stroke-linecap="round" stroke-dasharray="0 4.4"/>
<path d="M59.5,419h0M61.22,419h0M62.93,419h0M64.64,419h0M66.36,419h0M68.08,419h0M69.79,419h0M71.5,419h0M73.22,419h0M74.94,419h0M76.65,419h0M78.36,419h0M80.08,419h0M81.8,419h0M83.51,419h0M85.22,419h0M86.94,419h0M88.66,419h0M90.37,419h0M92.09,418.99h0M93.8,418.98h0M95.52,418.95h0M97.23,418.93h0M98.94,418.89h0M100.66,418.85h0M102.38,418.8h0M104.09,418.75h0M105.81,418.69h0M107.52,418.63h0M109.23,418.56h0M110.95,418.48h0M112.66,418.4h0M114.38,418.31h0M116.09,418.22h0M117.81,418.12h0M119.53,418.02h0M121.24,417.9h0M122.95,417.73h0M124.67,417.49h0M126.39,417.21h0M128.1,416.89h0M129.81,416.55h0M131.53,416.17h0M133.25,415.77h0M134.96,415.29h0M136.68,414.72h0M138.39,414h0M140.11,413.1h0M141.82,411.7h0M143.53,409.56h0M145.25,406.69h0M146.97,402.63h0M159.24,354.98h0M160.75,353.83h0M162.26,353.09h0M163.77,352.56h0M165.28,352.09h0M166.79,351.67h0M168.3,351.29h0M169.81,350.96h0M171.32,350.66h0M172.83,350.39h0M174.34,350.14h0M175.85,349.9h0M177.35,349.66h0M178.86,349.43h0M180.37,349.2h0M181.88,348.98h0M183.39,348.75h0M184.9,348.53h0M186.41,348.32h0M187.92,348.11h0M189.43,347.9h0M190.94,347.69h0M192.45,347.48h0M193.96,347.27h0M195.47,347.06h0M196.97,346.85h0M198.48,346.65h0M199.99,346.44h0M201.5,346.24h0M203.01,346.05h0M204.52,345.85h0M206.03,345.66h0M207.54,345.48h0M209.05,345.29h0M210.56,345.12h0M212.07,344.95h0M213.58,344.78h0M215.08,344.6h0M216.59,344.42h0M218.1,344.24h0M219.61,344.04h0M221.12,343.81h0M222.63,343.52h0M224.14,343.2h0M225.65,342.85h0M227.16,342.46h0M228.67,342.06h0M230.18,341.64h0M231.69,341.19h0M233.2,340.7h0M234.7,340.13h0M236.21,339.47h0M237.72,338.69h0M239.23,337.74h0M240.74,336.31h0M242.25,334.31h0M243.76,331.75h0M245.27,328.46h0M246.78,323.15h0M257.96,280.04h0M259.47,278.96h0M260.98,278.28h0M262.49,277.8h0M264,277.38h0M265.51,277.01h0M267.01,276.69h0M268.52,276.41h0M270.03,276.16h0M271.54,275.94h0M273.05,275.74h0M274.56,275.56h0M276.07,275.38h0M277.58,275.2h0M279.09,275.02h0M280.6,274.85h0M282.11,274.68h0M283.62,274.52h0M285.13,274.36h0M286.63,274.2h0M288.14,274.05h0M289.65,273.91h0M291.16,273.77h0M292.67,273.63h0M294.18,273.5h0M295.69,273.38h0M297.2,273.27h0M298.71,273.16h0M300.22,273.06h0M301.73,272.96h0M303.24,272.88h0M304.74,272.8h0M306.25,272.73h0M307.76,272.67h0M309.27,272.62h0M310.78,272.58h0M312.29,272.53h0M313.8,272.49h0M315.31,272.45h0M316.82,272.41h0M318.33,272.36h0M319.84,272.32h0M321.35,272.28h0M322.86,272.24h0" stroke="#000000" stroke-width="1.9" stroke-linecap="round" fill="none" />
<path d="M59.5,419 92.49,418.93 104.04,418.59 116.14,417.97 121.46,417.31 128.28,415.94 132.01,414.85 135.16,413.43 137.38,411.67 139.56,408.78 141.44,405.32 142.82,401.29 144.83,392.13 147.42,370.93 148.35,365.87 149.43,363.31 150.7,361.28 153.16,358.55 155.3,356.67 156.96,355.69 160.01,354.65 163.76,353.68 168.08,352.84 193.68,349.2 215.67,346.54 219.69,345.81 226.48,344.07 230.8,342.63 234.73,340.65 236.7,338.97 238.71,336.25 240.75,332.5 241.82,329.64 242.91,325.56 244.45,317.72 246.94,296.75 247.82,291.62 248.91,288.95 250.15,286.89 252.52,284.23 254.71,282.29 257.07,281.05 262.97,279.5 268.35,278.63 279.57,277.32 289.91,276.33 299.26,275.68 323.45,274.91" stroke="#10a8e8" stroke-width="0.7" fill="none" stroke-linejoin="round"/>
<path d="M59.5,419 92.49,418.93 104.04,418.59 116.14,417.97 121.46,417.31 128.28,415.94 132.01,414.85 135.16,413.43 137.38,411.67 139.56,408.78 141.44,405.32 142.82,401.29 144.83,392.13 147.42,370.93 148.35,365.87 149.43,363.31 150.7,361.28 153.16,358.55 155.3,356.67 156.96,355.69 160.01,354.65 163.76,353.68 168.08,352.84 193.68,349.2 215.67,346.54 219.69,345.81 226.48,344.07 230.8,342.63 234.73,340.65 236.7,338.97 238.71,336.25 240.75,332.5 241.82,329.64 242.91,325.56 244.45,317.72 246.94,296.75 247.82,291.62 248.91,288.95 250.15,286.89 252.52,284.23 254.71,282.29 257.07,281.05 262.97,279.5 268.35,278.63 279.57,277.32 289.91,276.33 299.26,275.68 323.45,274.91" stroke="#10a8e8" stroke-width="1.7" fill="none" stroke-linecap="round" stroke-dasharray="0 4.4"/>
<path d="M59.5,419h0M61.22,419h0M62.93,419h0M64.64,419h0M66.36,419h0M68.08,419h0M69.79,419h0M71.5,419h0M73.22,419h0M74.94,419h0M76.65,419h0M78.36,419h0M80.08,419h0M81.8,419h0M83.51,419h0M85.22,419h0M86.94,418.99h0M88.66,418.98h0M90.37,418.96h0M92.09,418.94h0M93.8,418.9h0M95.52,418.87h0M97.23,418.82h0M98.94,418.77h0M100.66,418.72h0M102.38,418.66h0M104.09,418.59h0M105.81,418.52h0M107.52,418.44h0M109.23,418.36h0M110.95,418.27h0M112.66,418.18h0M114.38,418.08h0M116.09,417.98h0M117.81,417.82h0M119.53,417.61h0M121.24,417.35h0M122.95,417.05h0M124.67,416.72h0M126.39,416.37h0M128.1,415.99h0M129.81,415.55h0M131.53,415.02h0M133.25,414.36h0M134.96,413.54h0M136.68,412.36h0M138.39,410.47h0M140.11,407.87h0M141.82,404.4h0M154.51,357.29h0M156.02,356.18h0M157.53,355.47h0M159.04,354.95h0M160.55,354.49h0M162.06,354.08h0M163.57,353.72h0M165.08,353.39h0M166.58,353.1h0M168.09,352.84h0M169.6,352.59h0M171.11,352.36h0M172.62,352.13h0M174.13,351.9h0M175.64,351.68h0M177.15,351.46h0M178.66,351.24h0M180.17,351.02h0M181.68,350.81h0M183.19,350.61h0M184.7,350.41h0M186.2,350.2h0M187.71,350h0M189.22,349.8h0M190.73,349.59h0M192.24,349.39h0M193.75,349.19h0M195.26,348.99h0M196.77,348.8h0M198.28,348.6h0M199.79,348.41h0M201.3,348.23h0M202.81,348.05h0M204.31,347.87h0M205.82,347.7h0M207.33,347.53h0M208.84,347.36h0M210.35,347.18h0M211.86,347.01h0M213.37,346.83h0M214.88,346.64h0M216.39,346.43h0M217.9,346.17h0M219.41,345.87h0M220.92,345.54h0M222.43,345.17h0M223.93,344.78h0M225.44,344.36h0M226.95,343.93h0M228.46,343.47h0M229.97,342.95h0M231.48,342.35h0M232.99,341.64h0M234.5,340.8h0M236.01,339.67h0M237.52,337.99h0M239.03,335.74h0M240.54,332.95h0M242.04,328.88h0M254.05,282.81h0M255.56,281.73h0M257.07,281.05h0M258.58,280.58h0M260.09,280.16h0M261.6,279.79h0M263.1,279.47h0M264.61,279.19h0M266.12,278.95h0M267.63,278.73h0M269.14,278.53h0M270.65,278.35h0M272.16,278.17h0M273.67,277.99h0M275.18,277.81h0M276.69,277.64h0M278.2,277.47h0M279.71,277.31h0M281.22,277.15h0M282.72,276.99h0M284.23,276.84h0M285.74,276.7h0M287.25,276.56h0M288.76,276.43h0M290.27,276.3h0M291.78,276.18h0M293.29,276.06h0M294.8,275.95h0M296.31,275.85h0M297.82,275.76h0M299.33,275.68h0M300.83,275.6h0M302.34,275.53h0M303.85,275.47h0M305.36,275.42h0M306.87,275.37h0M308.38,275.33h0M309.89,275.29h0M311.4,275.25h0M312.91,275.2h0M314.42,275.16h0M315.93,275.12h0M317.44,275.08h0M318.95,275.03h0M320.45,274.99h0M321.96,274.95h0M323.47,274.91h0" stroke="#10a8e8" stroke-width="1.9" stroke-linecap="round" fill="none" />
<path d="M59.5,419 87.54,418.91 109.54,418.06 114.49,417.51 120.63,416.41 124.41,415.5 127.46,414.41 129.63,413.26 131.59,411.44 133.72,408.5 135.37,405.32 136.82,400.77 138.27,394.39 140.89,374.64 141.73,370.11 142.82,367.63 144.11,365.65 146.59,363.07 148.81,361.25 150.47,360.34 153.52,359.37 161.46,357.68 176.08,355.61 211.82,351.08 216.77,349.93 222.43,348.3 225.74,346.97 228.55,345.4 230.7,343.3 232.87,340.03 234.55,336.65 235.88,332.4 237.83,323.02 240.37,301.73 241.3,296.53 242.5,293.75 243.94,291.55 246.89,288.47 249.32,286.7 253.51,285.32 258.95,284.21 280.01,281.79 295.41,280.72 323.45,279.9" stroke="#10e010" stroke-width="0.7" fill="none" stroke-linejoin="round"/>
<path d="M59.5,419 87.54,418.91 109.54,418.06 114.49,417.51 120.63,416.41 124.41,415.5 127.46,414.41 129.63,413.26 131.59,411.44 133.72,408.5 135.37,405.32 136.82,400.77 138.27,394.39 140.89,374.64 141.73,370.11 142.82,367.63 144.11,365.65 146.59,363.07 148.81,361.25 150.47,360.34 153.52,359.37 161.46,357.68 176.08,355.61 211.82,351.08 216.77,349.93 222.43,348.3 225.74,346.97 228.55,345.4 230.7,343.3 232.87,340.03 234.55,336.65 235.88,332.4 237.83,323.02 240.37,301.73 241.3,296.53 242.5,293.75 243.94,291.55 246.89,288.47 249.32,286.7 253.51,285.32 258.95,284.21 280.01,281.79 295.41,280.72 323.45,279.9" stroke="#10e010" stroke-width="1.7" fill="none" stroke-linecap="round" stroke-dasharray="0 4.4"/>
<path d="M59.5,419h0M61.22,419h0M62.93,419h0M64.64,419h0M66.36,419h0M68.08,419h0M69.79,419h0M71.5,419h0M73.22,419h0M74.94,419h0M76.65,419h0M78.36,419h0M80.08,419h0M81.8,418.99h0M83.51,418.97h0M85.22,418.95h0M86.94,418.92h0M88.66,418.88h0M90.37,418.84h0M92.09,418.8h0M93.8,418.75h0M95.52,418.69h0M97.23,418.63h0M98.94,418.57h0M100.66,418.5h0M102.38,418.42h0M104.09,418.34h0M105.81,418.26h0M107.52,418.17h0M109.23,418.08h0M110.95,417.94h0M112.66,417.76h0M114.38,417.53h0M116.09,417.26h0M117.81,416.96h0M119.53,416.63h0M121.24,416.29h0M122.95,415.9h0M124.67,415.42h0M126.39,414.84h0M128.1,414.12h0M129.81,413.13h0M131.53,411.51h0M133.25,409.24h0M134.96,406.28h0M136.68,401.3h0M147.99,361.85h0M149.5,360.81h0M151.01,360.15h0M152.52,359.66h0M154.03,359.23h0M155.54,358.84h0M157.05,358.5h0M158.56,358.19h0M160.07,357.92h0M161.58,357.66h0M163.09,357.43h0M164.6,357.21h0M166.1,356.99h0M167.61,356.77h0M169.12,356.56h0M170.63,356.34h0M172.14,356.14h0M173.65,355.93h0M175.16,355.73h0M176.67,355.53h0M178.18,355.33h0M179.69,355.14h0M181.2,354.94h0M182.71,354.75h0M184.21,354.55h0M185.72,354.35h0M187.23,354.16h0M188.74,353.97h0M190.25,353.77h0M191.76,353.58h0M193.27,353.4h0M194.78,353.21h0M196.29,353.03h0M197.8,352.86h0M199.31,352.69h0M200.82,352.52h0M202.33,352.35h0M203.83,352.17h0M205.34,352h0M206.85,351.82h0M208.36,351.63h0M209.87,351.42h0M211.38,351.16h0M212.89,350.86h0M214.4,350.52h0M215.91,350.15h0M217.42,349.76h0M218.93,349.35h0M220.44,348.92h0M221.94,348.46h0M223.45,347.93h0M224.96,347.33h0M226.47,346.61h0M227.98,345.77h0M229.49,344.62h0M231,342.92h0M232.51,340.65h0M234.02,337.84h0M235.53,333.69h0M247.46,287.97h0M248.97,286.89h0M250.48,286.22h0M251.99,285.74h0M253.5,285.32h0M255.01,284.96h0M256.52,284.64h0M258.03,284.36h0M259.54,284.12h0M261.05,283.9h0M262.56,283.7h0M264.07,283.52h0M265.57,283.34h0M267.08,283.16h0M268.59,282.98h0M270.1,282.81h0M271.61,282.65h0M273.12,282.48h0M274.63,282.32h0M276.14,282.17h0M277.65,282.02h0M279.16,281.87h0M280.67,281.73h0M282.18,281.6h0M283.68,281.47h0M285.19,281.35h0M286.7,281.24h0M288.21,281.13h0M289.72,281.03h0M291.23,280.94h0M292.74,280.85h0M294.25,280.77h0M295.76,280.7h0M297.27,280.64h0M298.78,280.59h0M300.29,280.55h0M301.8,280.51h0M303.3,280.46h0M304.81,280.42h0M306.32,280.38h0M307.83,280.34h0M309.34,280.3h0M310.85,280.25h0M312.36,280.21h0M313.87,280.17h0M315.38,280.13h0M316.89,280.08h0M318.4,280.04h0M319.91,280h0M321.41,279.96h0M322.92,279.92h0" stroke="#10e010" stroke-width="1.9" stroke-linecap="round" fill="none" />
<path d="M59.5,419h0M76.65,406.56h0M93.8,394.27h0M110.95,381.91h0M128.1,369.62h0M145.25,357.56h0M162.4,345.81h0M179.55,333.91h0M196.7,322.16h0M213.85,310.33h0M231,298.88h0M248.15,287.52h0M265.3,276.08h0M282.45,265.4h0M299.6,254.88h0M316.75,244.66h0M323.4,240.44h0" stroke="#000" stroke-width="3.6" stroke-linecap="round" fill="none" />
</g>
<g clip-path="url(#cc)">
<path d="M59.5,630 236.69,626.86 244.49,626.24 253.3,624.94 260.35,623.54 265.03,621.89 268.93,619.68 270.09,618.7 271.09,617.53 272.23,615.65 273.29,613.22 273.73,611.78 274.1,609.49 274.86,601.17 275.44,590.8 276.99,526.03 277.89,516.19 278.62,513.34 279.44,511.42 280.07,510.59 281.44,509.43 282.95,508.51 284.06,508.08 290.95,506.9 307.34,504.58 333.9,504.58" stroke="#1010ff" stroke-width="1.1" fill="none" stroke-linejoin="round"/>
<path d="M59.5,630 236.69,626.86 244.49,626.24 253.3,624.94 260.35,623.54 265.03,621.89 268.93,619.68 270.09,618.7 271.09,617.53 272.23,615.65 273.29,613.22 273.73,611.78 274.1,609.49 274.86,601.17 275.44,590.8 276.99,526.03 277.89,516.19 278.62,513.34 279.44,511.42 280.07,510.59 281.44,509.43 282.95,508.51 284.06,508.08 290.95,506.9 307.34,504.58 333.9,504.58" stroke="#1010ff" stroke-width="2" fill="none" stroke-linecap="round" stroke-dasharray="0 4.6"/>
<path d="M59.5,630 234.27,626.91 242.07,626.28 250.89,624.97 257.9,623.58 262.58,621.94 266.43,619.75 268.56,617.68 269.66,615.92 270.71,613.62 271.21,612.13 271.59,609.94 272.36,601.87 272.95,591.63 274.53,527.15 274.99,521.26 275.48,517.51 276.45,514.04 277.45,511.85 279.06,509.84 280.25,509.03 281.38,508.59 289.09,507.19 307.34,504.58 333.9,504.58" stroke="#208020" stroke-width="1.1" fill="none" stroke-linejoin="round"/>
<path d="M59.5,630 234.27,626.91 242.07,626.28 250.89,624.97 257.9,623.58 262.58,621.94 266.43,619.75 268.56,617.68 269.66,615.92 270.71,613.62 271.21,612.13 271.59,609.94 272.36,601.87 272.95,591.63 274.53,527.15 274.99,521.26 275.48,517.51 276.45,514.04 277.45,511.85 279.06,509.84 280.25,509.03 281.38,508.59 289.09,507.19 307.34,504.58 333.9,504.58" stroke="#208020" stroke-width="2" fill="none" stroke-linecap="round" stroke-dasharray="0 4.6"/>
<path d="M59.5,630 225.46,627.06 233.35,626.42 242.28,625.1 249.07,623.75 253.79,622.1 257.59,619.96 259.7,617.9 260.82,616.12 261.84,613.85 262.32,612.43 262.69,610.29 263.42,602.72 264.03,592.44 265.61,529.75 266.5,520.93 267.22,518.51 268.1,516.72 269.26,515.55 271.16,514.23 275.45,512.54 278.64,510.38 280.37,509.94 291.22,508.07 316.08,504.58 333.9,504.58" stroke="#000000" stroke-width="1.1" fill="none" stroke-linejoin="round"/>
<path d="M59.5,630 225.46,627.06 233.35,626.42 242.28,625.1 249.07,623.75 253.79,622.1 257.59,619.96 259.7,617.9 260.82,616.12 261.84,613.85 262.32,612.43 262.69,610.29 263.42,602.72 264.03,592.44 265.61,529.75 266.5,520.93 267.22,518.51 268.1,516.72 269.26,515.55 271.16,514.23 275.45,512.54 278.64,510.38 280.37,509.94 291.22,508.07 316.08,504.58 333.9,504.58" stroke="#000000" stroke-width="2" fill="none" stroke-linecap="round" stroke-dasharray="0 4.6"/>
<path d="M59.5,630 208.06,627.34 217.79,626.42 229.42,624.51 234.46,623.03 238.86,620.82 240.08,619.91 241.09,618.86 242.83,616.04 243.84,613.43 244.49,609.01 245.22,600.22 245.59,592.79 247.06,536.59 247.88,528.34 248.43,526.31 249.22,524.56 249.99,523.56 251.09,522.79 252.55,522.03 253.88,521.66 279.35,520.16 287.32,519.26 292.84,518.22 299.21,516.47 316.04,510.94 321.32,508.87 323.75,507.39 325.22,505.91 326.2,504.42 326.87,501.76 327.52,497.55 328.09,490.15 329.1,467.06 329.38,463.3 329.83,460.37 330.39,458.42 331.21,457.21 332.22,456.38 333.9,455.77" stroke="#ff1493" stroke-width="1.1" fill="none" stroke-linejoin="round"/>
<path d="M59.5,630 208.06,627.34 217.79,626.42 229.42,624.51 234.46,623.03 238.86,620.82 240.08,619.91 241.09,618.86 242.83,616.04 243.84,613.43 244.49,609.01 245.22,600.22 245.59,592.79 247.06,536.59 247.88,528.34 248.43,526.31 249.22,524.56 249.99,523.56 251.09,522.79 252.55,522.03 253.88,521.66 279.35,520.16 287.32,519.26 292.84,518.22 299.21,516.47 316.04,510.94 321.32,508.87 323.75,507.39 325.22,505.91 326.2,504.42 326.87,501.76 327.52,497.55 328.09,490.15 329.1,467.06 329.38,463.3 329.83,460.37 330.39,458.42 331.21,457.21 332.22,456.38 333.9,455.77" stroke="#ff1493" stroke-width="2" fill="none" stroke-linecap="round" stroke-dasharray="0 4.6"/>
<path d="M59.5,630 189.28,627.65 198.88,626.72 210.26,624.84 215.22,623.37 219.62,621.17 221.79,619.3 223.53,616.56 224.58,614 225.22,609.87 226.32,594.73 227.85,536.85 228.71,528.4 229.35,526.22 230.23,524.45 230.91,523.7 232.29,522.8 233.57,522.2 234.76,521.9 262.38,520.39 270.58,519.59 277.22,518.59 282.96,517.31 302.11,512.3 307.09,510.66 309.9,509.3 311.5,507.95 312.83,506.22 313.42,504.27 314.03,500.83 314.76,493.22 316.04,465.38 316.53,461.74 317.15,459.41 317.92,458.24 318.8,457.46 321.77,456.44 323.29,456.25 333.9,455.97" stroke="#d03838" stroke-width="1.1" fill="none" stroke-linejoin="round"/>
<path d="M59.5,630 189.28,627.65 198.88,626.72 210.26,624.84 215.22,623.37 219.62,621.17 221.79,619.3 223.53,616.56 224.58,614 225.22,609.87 226.32,594.73 227.85,536.85 228.71,528.4 229.35,526.22 230.23,524.45 230.91,523.7 232.29,522.8 233.57,522.2 234.76,521.9 262.38,520.39 270.58,519.59 277.22,518.59 282.96,517.31 302.11,512.3 307.09,510.66 309.9,509.3 311.5,507.95 312.83,506.22 313.42,504.27 314.03,500.83 314.76,493.22 316.04,465.38 316.53,461.74 317.15,459.41 317.92,458.24 318.8,457.46 321.77,456.44 323.29,456.25 333.9,455.97" stroke="#d03838" stroke-width="2" fill="none" stroke-linecap="round" stroke-dasharray="0 4.6"/>
<path d="M59.5,630 186.31,627.7 195.88,626.76 207.23,624.88 212.19,623.41 216.56,621.21 218.76,619.29 220.51,616.5 221.52,613.96 222.16,609.71 222.89,601.09 223.26,594.12 224.76,536.97 225.65,528.4 226.32,526.2 227.21,524.5 227.85,523.82 229.32,522.87 230.54,522.31 231.7,522.04 260.99,520.49 269.28,519.74 274.93,518.88 281.93,517.25 295.32,513.42 300.77,511.53 304.34,509.83 306.04,508.41 307.51,506.51 308.08,504.71 308.65,501.53 309.44,493.8 310.76,464.54 311.27,460.66 311.91,458.31 312.74,457.1 313.61,456.36 315.26,455.71 316.96,455.29 333.9,454.77" stroke="#10a8e0" stroke-width="1.1" fill="none" stroke-linejoin="round"/>
<path d="M59.5,630 186.31,627.7 195.88,626.76 207.23,624.88 212.19,623.41 216.56,621.21 218.76,619.29 220.51,616.5 221.52,613.96 222.16,609.71 222.89,601.09 223.26,594.12 224.76,536.97 225.65,528.4 226.32,526.2 227.21,524.5 227.85,523.82 229.32,522.87 230.54,522.31 231.7,522.04 260.99,520.49 269.28,519.74 274.93,518.88 281.93,517.25 295.32,513.42 300.77,511.53 304.34,509.83 306.04,508.41 307.51,506.51 308.08,504.71 308.65,501.53 309.44,493.8 310.76,464.54 311.27,460.66 311.91,458.31 312.74,457.1 313.61,456.36 315.26,455.71 316.96,455.29 333.9,454.77" stroke="#10a8e0" stroke-width="2" fill="none" stroke-linecap="round" stroke-dasharray="0 4.6"/>
<path d="M59.5,630 166.54,628.02 175.98,627.05 187.05,625.2 192,623.69 196.31,621.48 197.5,620.57 198.51,619.49 200.26,616.59 201.17,614.17 201.82,609.75 202.55,600.95 202.92,593.52 204.39,537.28 205.3,528.54 206.04,526.28 206.96,524.64 207.6,524.02 209.16,523.05 211.45,522.32 254.71,520.3 260.07,519.85 265.38,519.16 272.42,517.82 279.38,516.01 284.2,514.22 288.74,511.92 290.95,510.29 292.75,508.1 293.61,506.53 294.25,503.63 294.98,498.05 295.32,493.72 296.79,459.26 297.55,454.47 297.89,453.47 298.53,452.41 299.21,451.66 299.93,451.2 301.86,450.49 303.6,450.15 333.9,449.34" stroke="#ff6010" stroke-width="1.1" fill="none" stroke-linejoin="round"/>
<path d="M59.5,630 166.54,628.02 175.98,627.05 187.05,625.2 192,623.69 196.31,621.48 197.5,620.57 198.51,619.49 200.26,616.59 201.17,614.17 201.82,609.75 202.55,600.95 202.92,593.52 204.39,537.28 205.3,528.54 206.04,526.28 206.96,524.64 207.6,524.02 209.16,523.05 211.45,522.32 254.71,520.3 260.07,519.85 265.38,519.16 272.42,517.82 279.38,516.01 284.2,514.22 288.74,511.92 290.95,510.29 292.75,508.1 293.61,506.53 294.25,503.63 294.98,498.05 295.32,493.72 296.79,459.26 297.55,454.47 297.89,453.47 298.53,452.41 299.21,451.66 299.93,451.2 301.86,450.49 303.6,450.15 333.9,449.34" stroke="#ff6010" stroke-width="2" fill="none" stroke-linecap="round" stroke-dasharray="0 4.6"/>
<path d="M59.5,630 152.09,628.25 161.31,627.28 172.1,625.47 176.95,624.01 181.21,621.87 183.37,620.01 185.12,617.28 186.16,614.72 186.81,610.59 187.91,595.46 188.92,553.25 189.47,537.29 190.39,529 191.21,526.63 192.18,525.08 194.39,523.61 196.5,522.98 246.32,520.74 256.6,519.84 263.88,518.79 270.61,517.48 274.86,516.25 278.8,514.6 281.31,513.16 283.19,511.43 284.67,509.3 285.32,507 286.06,502.26 286.51,497.6 288.01,465.39 288.84,460.75 289.26,459.81 290.03,458.78 290.83,458.14 291.93,457.68 294.98,457.01 333.9,455.97" stroke="#801010" stroke-width="1.1" fill="none" stroke-linejoin="round"/>
<path d="M59.5,630 152.09,628.25 161.31,627.28 172.1,625.47 176.95,624.01 181.21,621.87 183.37,620.01 185.12,617.28 186.16,614.72 186.81,610.59 187.91,595.46 188.92,553.25 189.47,537.29 190.39,529 191.21,526.63 192.18,525.08 194.39,523.61 196.5,522.98 246.32,520.74 256.6,519.84 263.88,518.79 270.61,517.48 274.86,516.25 278.8,514.6 281.31,513.16 283.19,511.43 284.67,509.3 285.32,507 286.06,502.26 286.51,497.6 288.01,465.39 288.84,460.75 289.26,459.81 290.03,458.78 290.83,458.14 291.93,457.68 294.98,457.01 333.9,455.97" stroke="#801010" stroke-width="2" fill="none" stroke-linecap="round" stroke-dasharray="0 4.6"/>
<path d="M59.5,630 136.49,628.65 141.98,628.4 151.08,627.4 161.54,625.63 166.32,624.18 170.54,622.05 172.67,620.22 174.4,617.53 175.48,614.86 176.08,611.05 176.8,602.89 177.23,595.19 178.24,552.89 178.79,537.42 179.7,529.37 180.57,526.97 181.54,525.48 183.78,524.04 185.85,523.45 240.24,521.03 250.08,520.23 257.7,519.25 264.76,518.05 268.98,516.96 272.82,515.49 275.25,514.15 277.1,512.46 278.51,510.45 279.17,508.07 279.91,503.19 280.34,498.59 281.84,466.21 282.69,461.47 283.21,460.4 284.01,459.4 284.77,458.85 286.03,458.36 288.84,457.77 333.9,456.58" stroke="#a010f0" stroke-width="1.1" fill="none" stroke-linejoin="round"/>
<path d="M59.5,630 136.49,628.65 141.98,628.4 151.08,627.4 161.54,625.63 166.32,624.18 170.54,622.05 172.67,620.22 174.4,617.53 175.48,614.86 176.08,611.05 176.8,602.89 177.23,595.19 178.24,552.89 178.79,537.42 179.7,529.37 180.57,526.97 181.54,525.48 183.78,524.04 185.85,523.45 240.24,521.03 250.08,520.23 257.7,519.25 264.76,518.05 268.98,516.96 272.82,515.49 275.25,514.15 277.1,512.46 278.51,510.45 279.17,508.07 279.91,503.19 280.34,498.59 281.84,466.21 282.69,461.47 283.21,460.4 284.01,459.4 284.77,458.85 286.03,458.36 288.84,457.77 333.9,456.58" stroke="#a010f0" stroke-width="2" fill="none" stroke-linecap="round" stroke-dasharray="0 4.6"/>
<path d="M59.5,630 128.79,628.78 134.29,628.51 143.08,627.54 153.5,625.78 158.25,624.34 162.46,622.23 164.6,620.4 166.32,617.73 167.36,615.2 167.99,611.25 169.11,596.25 170.1,555.04 170.67,538.64 171.58,530.39 172.47,527.91 173.5,526.37 175.76,524.96 177.78,524.4 234.12,521.91 243.66,521.17 251.55,520.2 258.93,519.04 263.19,517.99 267.04,516.58 269.33,515.31 271.11,513.61 272.36,511.79 273.02,509.31 273.75,504.39 274.16,499.9 275.67,466.5 276.54,461.65 277.14,460.47 277.97,459.48 278.69,458.99 280.11,458.45 282.73,457.93 333.9,456.58" stroke="#505050" stroke-width="1.1" fill="none" stroke-linejoin="round"/>
<path d="M59.5,630 128.79,628.78 134.29,628.51 143.08,627.54 153.5,625.78 158.25,624.34 162.46,622.23 164.6,620.4 166.32,617.73 167.36,615.2 167.99,611.25 169.11,596.25 170.1,555.04 170.67,538.64 171.58,530.39 172.47,527.91 173.5,526.37 175.76,524.96 177.78,524.4 234.12,521.91 243.66,521.17 251.55,520.2 258.93,519.04 263.19,517.99 267.04,516.58 269.33,515.31 271.11,513.61 272.36,511.79 273.02,509.31 273.75,504.39 274.16,499.9 275.67,466.5 276.54,461.65 277.14,460.47 277.97,459.48 278.69,458.99 280.11,458.45 282.73,457.93 333.9,456.58" stroke="#505050" stroke-width="2" fill="none" stroke-linecap="round" stroke-dasharray="0 4.6"/>
<path d="M59.5,630 123.29,628.88 129.34,628.58 138.14,627.57 148.33,625.81 153.05,624.35 157.25,622.2 159.36,620.37 161.08,617.66 162.13,615.12 162.77,611.06 163.51,602.63 163.93,594.75 165.44,537.31 165.89,531.91 166.41,528.46 167.28,526.04 168.28,524.53 170.54,523.09 172.56,522.52 228.89,520.04 238.34,519.3 246.23,518.34 253.79,517.18 258.07,516.14 261.92,514.75 264.14,513.51 265.9,511.8 267.09,510 267.74,507.51 268.46,502.46 268.88,497.77 270.4,463.23 271.28,458.24 271.93,456.97 272.78,455.97 274.98,454.94 277.46,454.45 333.9,452.96" stroke="#10dd10" stroke-width="1.1" fill="none" stroke-linejoin="round"/>
<path d="M59.5,630 123.29,628.88 129.34,628.58 138.14,627.57 148.33,625.81 153.05,624.35 157.25,622.2 159.36,620.37 161.08,617.66 162.13,615.12 162.77,611.06 163.51,602.63 163.93,594.75 165.44,537.31 165.89,531.91 166.41,528.46 167.28,526.04 168.28,524.53 170.54,523.09 172.56,522.52 228.89,520.04 238.34,519.3 246.23,518.34 253.79,517.18 258.07,516.14 261.92,514.75 264.14,513.51 265.9,511.8 267.09,510 267.74,507.51 268.46,502.46 268.88,497.77 270.4,463.23 271.28,458.24 271.93,456.97 272.78,455.97 274.98,454.94 277.46,454.45 333.9,452.96" stroke="#10dd10" stroke-width="2" fill="none" stroke-linecap="round" stroke-dasharray="0 4.6"/>
<path d="M59.5,630 119.44,628.95 125.49,628.63 134.29,627.62 144.38,625.89 149.1,624.42 153.28,622.27 155.39,620.39 157.08,617.66 158.06,615.21 158.7,611.05 159.43,602.54 159.81,595.52 160.81,553.61 161.36,538.16 161.82,533.1 162.28,530.09 163.19,527.61 164.2,526.15 166.43,524.77 168.43,524.21 223.44,521.79 232.71,521.05 240.63,520.08 248.34,518.88 252.64,517.82 256.49,516.41 258.71,515.12 260.49,513.31 261.62,511.49 262.26,508.83 262.96,503.67 263.39,498.71 264.34,472.94 264.92,461.93 265.81,456.72 266.53,455.31 267.4,454.29 269.65,453.25 272.02,452.78 333.9,451.15" stroke="#c090e8" stroke-width="1.1" fill="none" stroke-linejoin="round"/>
<path d="M59.5,630 119.44,628.95 125.49,628.63 134.29,627.62 144.38,625.89 149.1,624.42 153.28,622.27 155.39,620.39 157.08,617.66 158.06,615.21 158.7,611.05 159.43,602.54 159.81,595.52 160.81,553.61 161.36,538.16 161.82,533.1 162.28,530.09 163.19,527.61 164.2,526.15 166.43,524.77 168.43,524.21 223.44,521.79 232.71,521.05 240.63,520.08 248.34,518.88 252.64,517.82 256.49,516.41 258.71,515.12 260.49,513.31 261.62,511.49 262.26,508.83 262.96,503.67 263.39,498.71 264.34,472.94 264.92,461.93 265.81,456.72 266.53,455.31 267.4,454.29 269.65,453.25 272.02,452.78 333.9,451.15" stroke="#c090e8" stroke-width="2" fill="none" stroke-linecap="round" stroke-dasharray="0 4.6"/>
<path d="M59.5,630 117.24,628.98 123.84,628.63 132.64,627.63 141.98,626.09 146.81,624.67 151.08,622.57 153.1,620.83 154.79,618.22 155.73,615.97 156.35,612.18 157.45,597.96 158.45,558.84 159.01,543.44 159.93,535.7 160.81,533.37 161.83,531.92 164.05,530.59 166.08,530.04 219.99,527.67 229.13,526.94 237.12,525.95 244.94,524.72 249.22,523.65 253.05,522.21 255.26,520.92 257,519.12 258.17,517.22 258.82,514.53 259.57,508.79 259.98,503.6 261.48,466.12 262.38,460.56 263.11,459.08 264.02,458.01 266.27,456.95 268.6,456.49 333.9,454.77" stroke="#8a7a1a" stroke-width="1.1" fill="none" stroke-linejoin="round"/>
<path d="M59.5,630 117.24,628.98 123.84,628.63 132.64,627.63 141.98,626.09 146.81,624.67 151.08,622.57 153.1,620.83 154.79,618.22 155.73,615.97 156.35,612.18 157.45,597.96 158.45,558.84 159.01,543.44 159.93,535.7 160.81,533.37 161.83,531.92 164.05,530.59 166.08,530.04 219.99,527.67 229.13,526.94 237.12,525.95 244.94,524.72 249.22,523.65 253.05,522.21 255.26,520.92 257,519.12 258.17,517.22 258.82,514.53 259.57,508.79 259.98,503.6 261.48,466.12 262.38,460.56 263.11,459.08 264.02,458.01 266.27,456.95 268.6,456.49 333.9,454.77" stroke="#8a7a1a" stroke-width="2" fill="none" stroke-linecap="round" stroke-dasharray="0 4.6"/>
<path d="M59.5,629.7 145.25,628.19" stroke="#d2462a" stroke-width="1.8" fill="none" stroke-linejoin="round" stroke-linecap="round" />
<path d="M60.87,629.68h0M63.62,629.63h0M66.36,629.58h0M69.1,629.53h0M71.85,629.48h0M74.59,629.43h0M77.34,629.39h0M80.08,629.34h0M82.82,629.29h0M85.57,629.24h0M88.31,629.19h0M91.06,629.15h0M93.8,629.1h0M96.54,629.05h0M99.29,629h0M102.03,628.95h0M104.78,628.9h0M107.52,628.86h0M110.26,628.81h0M113.01,628.76h0M115.75,628.71h0M118.5,628.66h0M121.24,628.61h0M123.98,628.57h0M126.73,628.52h0M129.47,628.47h0M132.22,628.42h0M134.96,628.37h0M137.7,628.33h0M140.45,628.28h0M143.19,628.23h0" stroke="#b03018" stroke-width="2" stroke-linecap="round" fill="none" />
<path d="M59.5,630 73.22,611.91 86.94,592.01 100.66,572.72 114.38,555.23 128.1,537.14 141.82,520.86 155.54,505.48 169.26,491.61 182.98,479.25 196.7,468.09 210.42,459.65 224.14,452.72 237.86,446.69 265.3,440.06 279.02,437.64 306.46,434.75 333.9,433.42" stroke="#000" stroke-width="0.9" fill="none" stroke-linejoin="round" stroke-linecap="round" />
<path d="M59.5,630h0M73.22,611.91h0M86.94,592.01h0M100.66,572.72h0M114.38,555.23h0M128.1,537.14h0M141.82,520.86h0M155.54,505.48h0M169.26,491.61h0M182.98,479.25h0M196.7,468.09h0M210.42,459.65h0M224.14,452.72h0M237.86,446.69h0M251.58,443.25h0M265.3,440.06h0M279.02,437.64h0M292.74,436.14h0M306.46,434.75h0M320.18,434.02h0M333.9,433.42h0" stroke="#000" stroke-width="3.4" stroke-linecap="round" fill="none" />
</g>
<text x="49.4" y="21.2" font-size="14.5" text-anchor="end" fill="#111" font-weight="normal" >3.5</text>
<text x="49.4" y="51.3" font-size="14.5" text-anchor="end" fill="#111" font-weight="normal" >3</text>
<text x="49.4" y="81.4" font-size="14.5" text-anchor="end" fill="#111" font-weight="normal" >2.5</text>
<text x="49.4" y="111.5" font-size="14.5" text-anchor="end" fill="#111" font-weight="normal" >2</text>
<text x="49.4" y="141.6" font-size="14.5" text-anchor="end" fill="#111" font-weight="normal" >1.5</text>
<text x="49.4" y="171.7" font-size="14.5" text-anchor="end" fill="#111" font-weight="normal" >1</text>
<text x="49.4" y="201.8" font-size="14.5" text-anchor="end" fill="#111" font-weight="normal" >0.5</text>
<text x="49.4" y="231.9" font-size="14.5" text-anchor="end" fill="#111" font-weight="normal" >0</text>
<text x="49.4" y="270.3" font-size="14.5" text-anchor="end" fill="#111" font-weight="normal" >2</text>
<text x="49.4" y="308.7" font-size="14.5" text-anchor="end" fill="#111" font-weight="normal" >1.5</text>
<text x="49.4" y="347.1" font-size="14.5" text-anchor="end" fill="#111" font-weight="normal" >1</text>
<text x="49.4" y="385.5" font-size="14.5" text-anchor="end" fill="#111" font-weight="normal" >0.5</text>
<text x="49.4" y="415.5" font-size="14.5" text-anchor="end" fill="#111" font-weight="normal" >0</text>
<text x="49.4" y="431.9" font-size="14.5" text-anchor="end" fill="#111" font-weight="normal" >3.5</text>
<text x="49.4" y="454" font-size="14.5" text-anchor="end" fill="#111" font-weight="normal" >3</text>
<text x="49.4" y="484.15" font-size="14.5" text-anchor="end" fill="#111" font-weight="normal" >2.5</text>
<text x="49.4" y="514.3" font-size="14.5" text-anchor="end" fill="#111" font-weight="normal" >2</text>
<text x="49.4" y="544.45" font-size="14.5" text-anchor="end" fill="#111" font-weight="normal" >1.5</text>
<text x="49.4" y="574.6" font-size="14.5" text-anchor="end" fill="#111" font-weight="normal" >1</text>
<text x="49.4" y="604.75" font-size="14.5" text-anchor="end" fill="#111" font-weight="normal" >0.5</text>
<text x="49.4" y="634.9" font-size="14.5" text-anchor="end" fill="#111" font-weight="normal" >0</text>
<text x="59.5" y="652.5" font-size="14.5" text-anchor="middle" fill="#111" font-weight="normal" >0</text>
<text x="93.8" y="652.5" font-size="14.5" text-anchor="middle" fill="#111" font-weight="normal" >0.05</text>
<text x="128.1" y="652.5" font-size="14.5" text-anchor="middle" fill="#111" font-weight="normal" >0.1</text>
<text x="162.4" y="652.5" font-size="14.5" text-anchor="middle" fill="#111" font-weight="normal" >0.15</text>
<text x="196.7" y="652.5" font-size="14.5" text-anchor="middle" fill="#111" font-weight="normal" >0.2</text>
<text x="231" y="652.5" font-size="14.5" text-anchor="middle" fill="#111" font-weight="normal" >0.25</text>
<text x="265.3" y="652.5" font-size="14.5" text-anchor="middle" fill="#111" font-weight="normal" >0.3</text>
<text x="299.6" y="652.5" font-size="14.5" text-anchor="middle" fill="#111" font-weight="normal" >0.35</text>
<text x="333.9" y="652.5" font-size="14.5" text-anchor="middle" fill="#111" font-weight="normal" >0.4</text>
<text transform="translate(13,122.3) rotate(-90)" font-size="15" text-anchor="middle" fill="#111"><tspan font-style="italic">M</tspan> (<tspan font-style="italic">μ</tspan><tspan font-size="9.5" dy="3">B</tspan><tspan dy="-3"> per Dy)</tspan></text>
<text transform="translate(13,323) rotate(-90)" font-size="15" text-anchor="middle" fill="#111"><tspan font-style="italic">M</tspan> (<tspan font-style="italic">μ</tspan><tspan font-size="9.5" dy="3">B</tspan><tspan dy="-3"> per Dy)</tspan></text>
<text transform="translate(13,524.5) rotate(-90)" font-size="15" text-anchor="middle" fill="#111"><tspan font-style="italic">M</tspan> (<tspan font-style="italic">μ</tspan><tspan font-size="9.5" dy="3">B</tspan><tspan dy="-3"> per Ho)</tspan></text>
<text x="196" y="678.4" font-size="15" text-anchor="middle" fill="#111"><tspan font-style="italic">μ</tspan><tspan font-size="11" dy="3.6">0</tspan><tspan dy="-3.6"> </tspan><tspan font-style="italic">H</tspan> (T)</text>
<text x="-0.8" y="15.6" font-size="21.5" text-anchor="start" fill="#000" font-weight="bold" >a</text>
<text x="0" y="242.3" font-size="21.5" text-anchor="start" fill="#000" font-weight="bold" >b</text>
<text x="0" y="444.8" font-size="21.5" text-anchor="start" fill="#000" font-weight="bold" >c</text>
<text x="359.2" y="15.5" font-size="21.5" text-anchor="start" fill="#000" font-weight="bold" >d</text>
<text x="359.4" y="348.4" font-size="21.5" text-anchor="start" fill="#000" font-weight="bold" >e</text>
<text x="96.2" y="40.8" font-size="13" fill="#111"><tspan font-size="9" dy="-5">162</tspan><tspan dy="5">Dy (</tspan><tspan font-style="italic">μ</tspan><tspan font-size="9.5" dy="3">N</tspan><tspan dy="-3"> = 0)</tspan></text>
<text x="95.7" y="61.7" font-size="13" text-anchor="start" fill="#111" font-weight="normal" >80 mK</text>
<line x1="202.9" y1="115.4" x2="240" y2="115.4" stroke="#aaa" stroke-width="0.8" />
<path d="M193.8,115.4 L202.8,112.4 L202.8,115.4 L202.8,118.4Z" fill="#000"/>
<text x="243.6" y="120.5" font-size="12.9" text-anchor="start" fill="#cc2027" font-weight="normal" >CC</text>
<rect x="111" y="151" width="53" height="11" fill="#fff"/>
<text x="113.1" y="160.1" font-size="10.5" text-anchor="start" fill="#111" font-weight="normal" >Wait = 20s</text>
<line x1="167.3" y1="156.9" x2="180" y2="156.9" stroke="#aaa" stroke-width="0.8" />
<path d="M186.2,156.9 L178.2,153.9 L178.2,156.9 L178.2,159.9Z" fill="#000"/>
<path d="M189.9,156.9 L197.9,153.9 L197.9,156.9 L197.9,159.9Z" fill="#000"/>
<line x1="196" y1="156.9" x2="217.3" y2="156.9" stroke="#aaa" stroke-width="0.8" />
<text x="221.7" y="160.1" font-size="10.5" text-anchor="start" fill="#111" font-weight="normal" >Wait = 56,000s</text>
<text x="86.1" y="251.1" font-size="13" fill="#111"><tspan font-size="9" dy="-5">163</tspan><tspan dy="5">Dy (</tspan><tspan font-style="italic">μ</tspan><tspan font-size="9.5" dy="3">N</tspan><tspan dy="-3"> = 0.67)</tspan></text>
<text x="85.7" y="271.7" font-size="13" text-anchor="start" fill="#111" font-weight="normal" >80 mK</text>
<text x="147" y="307.4" font-size="12.9" text-anchor="start" fill="#cc2027" font-weight="normal" >CC</text>
<line x1="156.2" y1="309" x2="156.2" y2="322" stroke="#aaa" stroke-width="0.8" />
<path d="M156.2,330 L159.3,322.2 L156.2,322.2 L153.1,322.2Z" fill="#000"/>
<rect x="63.6" y="377.2" width="54.4" height="16.3" fill="#fff"/>
<text x="63.5" y="388.3" font-size="10.5" text-anchor="start" fill="#111" font-weight="normal" >Wait = 30s</text>
<line x1="122" y1="384.8" x2="129" y2="384.8" stroke="#aaa" stroke-width="0.8" />
<path d="M136.6,384.8 L128.4,381.8 L128.4,384.8 L128.4,387.8Z" fill="#000"/>
<path d="M160,384.8 L168.2,381.8 L168.2,384.8 L168.2,387.8Z" fill="#000"/>
<line x1="167" y1="384.8" x2="188" y2="384.8" stroke="#aaa" stroke-width="0.8" />
<text x="191.8" y="388.3" font-size="10.5" text-anchor="start" fill="#111" font-weight="normal" >Wait = 16,000s</text>
<text x="80.9" y="444.1" font-size="13" fill="#111">HTO (<tspan font-style="italic">μ</tspan><tspan font-size="9.5" dy="3">N</tspan><tspan dy="-3"> = 4.17)</tspan></text>
<text x="80.5" y="464.6" font-size="13" text-anchor="start" fill="#111" font-weight="normal" >200 mK</text>
<text x="220" y="488.8" font-size="12.9" text-anchor="start" fill="#cc2027" font-weight="normal" >CC</text>
<line x1="229.4" y1="493" x2="229.4" y2="535" stroke="#aaa" stroke-width="0.8" />
<path d="M229.4,542.9 L232.55,534.3 L229.4,534.3 L226.25,534.3Z" fill="#000"/>
<rect x="64" y="553" width="56" height="16.2" fill="#fff"/>
<text x="64.5" y="564.2" font-size="10.5" text-anchor="start" fill="#111" font-weight="normal" >Wait = 5.2s</text>
<line x1="131" y1="561" x2="148" y2="561" stroke="#aaa" stroke-width="0.8" />
<path d="M156,561 L147.2,557.9 L147.2,561 L147.2,564.1Z" fill="#000"/>
<path d="M275.7,561.3 L284.1,558.2 L284.1,561.3 L284.1,564.4Z" fill="#000"/>
<line x1="284" y1="561.3" x2="289.3" y2="561.3" stroke="#aaa" stroke-width="0.8" />
<text x="289.3" y="564.9" font-size="10.5" text-anchor="start" fill="#111" font-weight="normal" >Wait =</text>
<text x="288.9" y="576.6" font-size="10.5" text-anchor="start" fill="#111" font-weight="normal" >30,000s</text>
<line x1="424.6" y1="13.5" x2="680.5" y2="13.5" stroke="#4a4a4a" stroke-width="1" />
<line x1="424.6" y1="13.5" x2="424.6" y2="270" stroke="#4a4a4a" stroke-width="1" />
<line x1="680.5" y1="13.5" x2="680.5" y2="270" stroke="#4a4a4a" stroke-width="1" />
<line x1="424.6" y1="270" x2="512.5" y2="270" stroke="#4a4a4a" stroke-width="1" />
<line x1="549.4" y1="270" x2="680.5" y2="270" stroke="#4a4a4a" stroke-width="1" />
<line x1="424.6" y1="39" x2="429.3" y2="39" stroke="#4a4a4a" stroke-width="0.9" />
<line x1="680.5" y1="39" x2="675.8" y2="39" stroke="#4a4a4a" stroke-width="0.9" />
<line x1="424.6" y1="90.3" x2="429.3" y2="90.3" stroke="#4a4a4a" stroke-width="0.9" />
<line x1="680.5" y1="90.3" x2="675.8" y2="90.3" stroke="#4a4a4a" stroke-width="0.9" />
<line x1="424.6" y1="141.6" x2="429.3" y2="141.6" stroke="#4a4a4a" stroke-width="0.9" />
<line x1="680.5" y1="141.6" x2="675.8" y2="141.6" stroke="#4a4a4a" stroke-width="0.9" />
<line x1="424.6" y1="192.9" x2="429.3" y2="192.9" stroke="#4a4a4a" stroke-width="0.9" />
<line x1="680.5" y1="192.9" x2="675.8" y2="192.9" stroke="#4a4a4a" stroke-width="0.9" />
<line x1="424.6" y1="244.2" x2="429.3" y2="244.2" stroke="#4a4a4a" stroke-width="0.9" />
<line x1="680.5" y1="244.2" x2="675.8" y2="244.2" stroke="#4a4a4a" stroke-width="0.9" />
<line x1="430.57" y1="270" x2="430.57" y2="267.4" stroke="#4a4a4a" stroke-width="0.9" />
<line x1="436.4" y1="270" x2="436.4" y2="265.2" stroke="#4a4a4a" stroke-width="0.9" />
<line x1="442.23" y1="270" x2="442.23" y2="267.4" stroke="#4a4a4a" stroke-width="0.9" />
<line x1="448.06" y1="270" x2="448.06" y2="267.4" stroke="#4a4a4a" stroke-width="0.9" />
<line x1="453.89" y1="270" x2="453.89" y2="267.4" stroke="#4a4a4a" stroke-width="0.9" />
<line x1="459.72" y1="270" x2="459.72" y2="267.4" stroke="#4a4a4a" stroke-width="0.9" />
<line x1="465.55" y1="270" x2="465.55" y2="265.2" stroke="#4a4a4a" stroke-width="0.9" />
<line x1="471.38" y1="270" x2="471.38" y2="267.4" stroke="#4a4a4a" stroke-width="0.9" />
<line x1="477.21" y1="270" x2="477.21" y2="267.4" stroke="#4a4a4a" stroke-width="0.9" />
<line x1="483.04" y1="270" x2="483.04" y2="267.4" stroke="#4a4a4a" stroke-width="0.9" />
<line x1="488.87" y1="270" x2="488.87" y2="267.4" stroke="#4a4a4a" stroke-width="0.9" />
<line x1="494.7" y1="270" x2="494.7" y2="265.2" stroke="#4a4a4a" stroke-width="0.9" />
<line x1="500.53" y1="270" x2="500.53" y2="267.4" stroke="#4a4a4a" stroke-width="0.9" />
<line x1="506.36" y1="270" x2="506.36" y2="267.4" stroke="#4a4a4a" stroke-width="0.9" />
<line x1="552.6" y1="270" x2="552.6" y2="265.2" stroke="#4a4a4a" stroke-width="0.9" />
<line x1="558.47" y1="270" x2="558.47" y2="267.4" stroke="#4a4a4a" stroke-width="0.9" />
<line x1="564.34" y1="270" x2="564.34" y2="267.4" stroke="#4a4a4a" stroke-width="0.9" />
<line x1="570.21" y1="270" x2="570.21" y2="267.4" stroke="#4a4a4a" stroke-width="0.9" />
<line x1="576.08" y1="270" x2="576.08" y2="267.4" stroke="#4a4a4a" stroke-width="0.9" />
<line x1="581.95" y1="270" x2="581.95" y2="265.2" stroke="#4a4a4a" stroke-width="0.9" />
<line x1="587.82" y1="270" x2="587.82" y2="267.4" stroke="#4a4a4a" stroke-width="0.9" />
<line x1="593.69" y1="270" x2="593.69" y2="267.4" stroke="#4a4a4a" stroke-width="0.9" />
<line x1="599.56" y1="270" x2="599.56" y2="267.4" stroke="#4a4a4a" stroke-width="0.9" />
<line x1="605.43" y1="270" x2="605.43" y2="267.4" stroke="#4a4a4a" stroke-width="0.9" />
<line x1="611.3" y1="270" x2="611.3" y2="265.2" stroke="#4a4a4a" stroke-width="0.9" />
<line x1="617.17" y1="270" x2="617.17" y2="267.4" stroke="#4a4a4a" stroke-width="0.9" />
<line x1="623.04" y1="270" x2="623.04" y2="267.4" stroke="#4a4a4a" stroke-width="0.9" />
<line x1="628.91" y1="270" x2="628.91" y2="267.4" stroke="#4a4a4a" stroke-width="0.9" />
<line x1="634.78" y1="270" x2="634.78" y2="267.4" stroke="#4a4a4a" stroke-width="0.9" />
<line x1="640.65" y1="270" x2="640.65" y2="265.2" stroke="#4a4a4a" stroke-width="0.9" />
<line x1="646.52" y1="270" x2="646.52" y2="267.4" stroke="#4a4a4a" stroke-width="0.9" />
<line x1="652.39" y1="270" x2="652.39" y2="267.4" stroke="#4a4a4a" stroke-width="0.9" />
<line x1="658.26" y1="270" x2="658.26" y2="267.4" stroke="#4a4a4a" stroke-width="0.9" />
<line x1="664.13" y1="270" x2="664.13" y2="267.4" stroke="#4a4a4a" stroke-width="0.9" />
<line x1="670" y1="270" x2="670" y2="265.2" stroke="#4a4a4a" stroke-width="0.9" />
<line x1="675.87" y1="270" x2="675.87" y2="267.4" stroke="#4a4a4a" stroke-width="0.9" />
<text x="416.4" y="43.9" font-size="14.5" text-anchor="end" fill="#111" font-weight="normal" >0.4</text>
<text x="416.4" y="95.2" font-size="14.5" text-anchor="end" fill="#111" font-weight="normal" >0.2</text>
<text x="416.4" y="146.5" font-size="14.5" text-anchor="end" fill="#111" font-weight="normal" >0</text>
<text x="416.4" y="197.8" font-size="14.5" text-anchor="end" fill="#111" font-weight="normal" >0.2</text>
<text x="416.4" y="249.1" font-size="14.5" text-anchor="end" fill="#111" font-weight="normal" >–0.4</text>
<text x="436.4" y="289.3" font-size="14.5" text-anchor="middle" fill="#111" font-weight="normal" >0</text>
<text x="465.55" y="289.3" font-size="14.5" text-anchor="middle" fill="#111" font-weight="normal" >5</text>
<text x="494.7" y="289.3" font-size="14.5" text-anchor="middle" fill="#111" font-weight="normal" >10</text>
<text x="552.6" y="289.3" font-size="14.5" text-anchor="middle" fill="#111" font-weight="normal" >0</text>
<text x="581.95" y="289.3" font-size="14.5" text-anchor="middle" fill="#111" font-weight="normal" >5</text>
<text x="611.3" y="289.3" font-size="14.5" text-anchor="middle" fill="#111" font-weight="normal" >10</text>
<text x="640.65" y="289.3" font-size="14.5" text-anchor="middle" fill="#111" font-weight="normal" >15</text>
<text x="670" y="289.3" font-size="14.5" text-anchor="middle" fill="#111" font-weight="normal" >20</text>
<line x1="527.4" y1="125.3" x2="518.3" y2="153.4" stroke="#999" stroke-width="0.7" />
<line x1="538.5" y1="125.3" x2="529.2" y2="153.4" stroke="#999" stroke-width="0.7" />
<line x1="526.7" y1="254" x2="518.1" y2="282" stroke="#999" stroke-width="0.7" />
<line x1="538.7" y1="254" x2="529.4" y2="282" stroke="#999" stroke-width="0.7" />
<line x1="424.6" y1="244.3" x2="436.6" y2="244.3" stroke="#d42020" stroke-width="1.8" />
<line x1="436.5" y1="244.3" x2="438.5" y2="39" stroke="#d42020" stroke-width="0.5" stroke-opacity="0.6"/>
<circle cx="436.5" cy="244.3" r="0.75" fill="#d42020"/>
<circle cx="436.55" cy="239.04" r="0.75" fill="#d42020"/>
<circle cx="436.6" cy="233.77" r="0.75" fill="#d42020"/>
<circle cx="436.65" cy="228.51" r="0.75" fill="#d42020"/>
<circle cx="436.71" cy="223.24" r="0.75" fill="#d42020"/>
<circle cx="436.76" cy="217.98" r="0.75" fill="#d42020"/>
<circle cx="436.81" cy="212.72" r="0.75" fill="#d42020"/>
<circle cx="436.86" cy="207.45" r="0.75" fill="#d42020"/>
<circle cx="436.91" cy="202.19" r="0.75" fill="#d42020"/>
<circle cx="436.96" cy="196.92" r="0.75" fill="#d42020"/>
<circle cx="437.01" cy="191.66" r="0.75" fill="#d42020"/>
<circle cx="437.06" cy="186.39" r="0.75" fill="#d42020"/>
<circle cx="437.12" cy="181.13" r="0.75" fill="#d42020"/>
<circle cx="437.17" cy="175.87" r="0.75" fill="#d42020"/>
<circle cx="437.22" cy="170.6" r="0.75" fill="#d42020"/>
<circle cx="437.27" cy="165.34" r="0.75" fill="#d42020"/>
<circle cx="437.32" cy="160.07" r="0.75" fill="#d42020"/>
<circle cx="437.37" cy="154.81" r="0.75" fill="#d42020"/>
<circle cx="437.42" cy="149.55" r="0.75" fill="#d42020"/>
<circle cx="437.47" cy="144.28" r="0.75" fill="#d42020"/>
<circle cx="437.53" cy="139.02" r="0.75" fill="#d42020"/>
<circle cx="437.58" cy="133.75" r="0.75" fill="#d42020"/>
<circle cx="437.63" cy="128.49" r="0.75" fill="#d42020"/>
<circle cx="437.68" cy="123.23" r="0.75" fill="#d42020"/>
<circle cx="437.73" cy="117.96" r="0.75" fill="#d42020"/>
<circle cx="437.78" cy="112.7" r="0.75" fill="#d42020"/>
<circle cx="437.83" cy="107.43" r="0.75" fill="#d42020"/>
<circle cx="437.88" cy="102.17" r="0.75" fill="#d42020"/>
<circle cx="437.94" cy="96.91" r="0.75" fill="#d42020"/>
<circle cx="437.99" cy="91.64" r="0.75" fill="#d42020"/>
<circle cx="438.04" cy="86.38" r="0.75" fill="#d42020"/>
<circle cx="438.09" cy="81.11" r="0.75" fill="#d42020"/>
<circle cx="438.14" cy="75.85" r="0.75" fill="#d42020"/>
<circle cx="438.19" cy="70.58" r="0.75" fill="#d42020"/>
<circle cx="438.24" cy="65.32" r="0.75" fill="#d42020"/>
<circle cx="438.29" cy="60.06" r="0.75" fill="#d42020"/>
<circle cx="438.35" cy="54.79" r="0.75" fill="#d42020"/>
<circle cx="438.4" cy="49.53" r="0.75" fill="#d42020"/>
<circle cx="438.45" cy="44.26" r="0.75" fill="#d42020"/>
<circle cx="438.5" cy="39" r="0.75" fill="#d42020"/>
<line x1="438.4" y1="39" x2="460.4" y2="39" stroke="#d42020" stroke-width="1.8" />
<line x1="460.3" y1="39" x2="460.6" y2="141.7" stroke="#d42020" stroke-width="0.5" stroke-opacity="0.6"/>
<circle cx="460.3" cy="39" r="0.75" fill="#d42020"/>
<circle cx="460.32" cy="44.41" r="0.75" fill="#d42020"/>
<circle cx="460.33" cy="49.81" r="0.75" fill="#d42020"/>
<circle cx="460.35" cy="55.22" r="0.75" fill="#d42020"/>
<circle cx="460.36" cy="60.62" r="0.75" fill="#d42020"/>
<circle cx="460.38" cy="66.03" r="0.75" fill="#d42020"/>
<circle cx="460.39" cy="71.43" r="0.75" fill="#d42020"/>
<circle cx="460.41" cy="76.84" r="0.75" fill="#d42020"/>
<circle cx="460.43" cy="82.24" r="0.75" fill="#d42020"/>
<circle cx="460.44" cy="87.65" r="0.75" fill="#d42020"/>
<circle cx="460.46" cy="93.05" r="0.75" fill="#d42020"/>
<circle cx="460.47" cy="98.46" r="0.75" fill="#d42020"/>
<circle cx="460.49" cy="103.86" r="0.75" fill="#d42020"/>
<circle cx="460.51" cy="109.27" r="0.75" fill="#d42020"/>
<circle cx="460.52" cy="114.67" r="0.75" fill="#d42020"/>
<circle cx="460.54" cy="120.08" r="0.75" fill="#d42020"/>
<circle cx="460.55" cy="125.48" r="0.75" fill="#d42020"/>
<circle cx="460.57" cy="130.89" r="0.75" fill="#d42020"/>
<circle cx="460.58" cy="136.29" r="0.75" fill="#d42020"/>
<circle cx="460.6" cy="141.7" r="0.75" fill="#d42020"/>
<line x1="460.5" y1="141.7" x2="494.9" y2="141.7" stroke="#d42020" stroke-width="1.8" />
<line x1="494.9" y1="141.7" x2="553" y2="141.7" stroke="#d42020" stroke-width="0.7" />
<path d="M553,141.7 561,134.6 680.8,38.7" stroke="#d42020" stroke-width="1.8" fill="none" stroke-linejoin="round" stroke-linecap="round" />
<line x1="437.2" y1="166.5" x2="550.3" y2="166.5" stroke="#aaa" stroke-width="0.7" />
<line x1="550.3" y1="166.5" x2="677.8" y2="166.5" stroke="#aaa" stroke-width="0.7" />
<path d="M437.2,166.5 L444.3,163.9 L442.17,166.5 L444.3,169.1Z" fill="#000"/>
<path d="M462.2,166.5 L455.1,163.9 L457.23,166.5 L455.1,169.1Z" fill="#000"/>
<path d="M462.2,166.5 L469.3,163.9 L467.17,166.5 L469.3,169.1Z" fill="#000"/>
<path d="M550.3,166.5 L543.2,163.9 L545.33,166.5 L543.2,169.1Z" fill="#000"/>
<path d="M550.3,166.5 L557.4,163.9 L555.27,166.5 L557.4,169.1Z" fill="#000"/>
<path d="M677.8,166.5 L670.7,163.9 L672.83,166.5 L670.7,169.1Z" fill="#000"/>
<text x="442" y="157" font-size="10.4" text-anchor="start" fill="#111" font-weight="normal" >AQp</text>
<text x="478.2" y="188.3" font-size="10.4" text-anchor="start" fill="#111" font-weight="normal" >Wait period</text>
<text x="478.2" y="200" font-size="10.4" text-anchor="start" fill="#111" font-weight="normal" >(10–50,000 s)</text>
<text x="563.4" y="155.9" font-size="10.4" fill="#111">Ramp <tspan font-style="italic">H</tspan> and measure</text>
<text transform="translate(374,141.4) rotate(-90)" font-size="15" text-anchor="middle" fill="#111"><tspan font-style="italic">μ</tspan><tspan font-size="11" dy="3.6">0</tspan><tspan dy="-3.6"> </tspan><tspan font-style="italic">H</tspan> (T)</text>
<text x="542.7" y="313.3" font-size="15" fill="#111"><tspan font-style="italic">t</tspan> (s)</text>
<line x1="425" y1="341.9" x2="680" y2="341.9" stroke="#6a6a6a" stroke-width="1" />
<line x1="425" y1="341.9" x2="425" y2="633.8" stroke="#777" stroke-width="1" />
<line x1="680" y1="341.9" x2="680" y2="633.8" stroke="#777" stroke-width="1" />
<line x1="425" y1="633.8" x2="680" y2="633.8" stroke="#777" stroke-width="1.6" />
<line x1="425" y1="617.4" x2="427.5" y2="617.4" stroke="#c4c4c4" stroke-width="0.8" />
<line x1="680" y1="617.4" x2="677.5" y2="617.4" stroke="#aaa" stroke-width="0.8" />
<line x1="425" y1="601.2" x2="427.5" y2="601.2" stroke="#c4c4c4" stroke-width="0.8" />
<line x1="680" y1="601.2" x2="677.5" y2="601.2" stroke="#aaa" stroke-width="0.8" />
<line x1="425" y1="585" x2="427.5" y2="585" stroke="#c4c4c4" stroke-width="0.8" />
<line x1="680" y1="585" x2="677.5" y2="585" stroke="#aaa" stroke-width="0.8" />
<line x1="425" y1="568.8" x2="429.5" y2="568.8" stroke="#c4c4c4" stroke-width="0.8" />
<line x1="680" y1="568.8" x2="675.5" y2="568.8" stroke="#aaa" stroke-width="0.8" />
<line x1="425" y1="552.6" x2="427.5" y2="552.6" stroke="#c4c4c4" stroke-width="0.8" />
<line x1="680" y1="552.6" x2="677.5" y2="552.6" stroke="#aaa" stroke-width="0.8" />
<line x1="425" y1="536.4" x2="427.5" y2="536.4" stroke="#c4c4c4" stroke-width="0.8" />
<line x1="680" y1="536.4" x2="677.5" y2="536.4" stroke="#aaa" stroke-width="0.8" />
<line x1="425" y1="520.2" x2="427.5" y2="520.2" stroke="#c4c4c4" stroke-width="0.8" />
<line x1="680" y1="520.2" x2="677.5" y2="520.2" stroke="#aaa" stroke-width="0.8" />
<line x1="425" y1="504" x2="429.5" y2="504" stroke="#c4c4c4" stroke-width="0.8" />
<line x1="680" y1="504" x2="675.5" y2="504" stroke="#aaa" stroke-width="0.8" />
<line x1="425" y1="487.8" x2="427.5" y2="487.8" stroke="#c4c4c4" stroke-width="0.8" />
<line x1="680" y1="487.8" x2="677.5" y2="487.8" stroke="#aaa" stroke-width="0.8" />
<line x1="425" y1="471.6" x2="427.5" y2="471.6" stroke="#c4c4c4" stroke-width="0.8" />
<line x1="680" y1="471.6" x2="677.5" y2="471.6" stroke="#aaa" stroke-width="0.8" />
<line x1="425" y1="455.4" x2="427.5" y2="455.4" stroke="#c4c4c4" stroke-width="0.8" />
<line x1="680" y1="455.4" x2="677.5" y2="455.4" stroke="#aaa" stroke-width="0.8" />
<line x1="425" y1="439.2" x2="429.5" y2="439.2" stroke="#c4c4c4" stroke-width="0.8" />
<line x1="680" y1="439.2" x2="675.5" y2="439.2" stroke="#aaa" stroke-width="0.8" />
<line x1="425" y1="423" x2="427.5" y2="423" stroke="#c4c4c4" stroke-width="0.8" />
<line x1="680" y1="423" x2="677.5" y2="423" stroke="#aaa" stroke-width="0.8" />
<line x1="425" y1="406.8" x2="427.5" y2="406.8" stroke="#c4c4c4" stroke-width="0.8" />
<line x1="680" y1="406.8" x2="677.5" y2="406.8" stroke="#aaa" stroke-width="0.8" />
<line x1="425" y1="390.6" x2="427.5" y2="390.6" stroke="#c4c4c4" stroke-width="0.8" />
<line x1="680" y1="390.6" x2="677.5" y2="390.6" stroke="#aaa" stroke-width="0.8" />
<line x1="425" y1="374.4" x2="429.5" y2="374.4" stroke="#c4c4c4" stroke-width="0.8" />
<line x1="680" y1="374.4" x2="675.5" y2="374.4" stroke="#aaa" stroke-width="0.8" />
<line x1="425" y1="358.2" x2="427.5" y2="358.2" stroke="#c4c4c4" stroke-width="0.8" />
<line x1="680" y1="358.2" x2="677.5" y2="358.2" stroke="#aaa" stroke-width="0.8" />
<line x1="427.58" y1="341.9" x2="427.58" y2="344.4" stroke="#999" stroke-width="0.8" />
<line x1="427.58" y1="633.8" x2="427.58" y2="631.3" stroke="#aaa" stroke-width="0.8" />
<line x1="432.5" y1="341.9" x2="432.5" y2="344.4" stroke="#999" stroke-width="0.8" />
<line x1="432.5" y1="633.8" x2="432.5" y2="631.3" stroke="#aaa" stroke-width="0.8" />
<line x1="436.67" y1="341.9" x2="436.67" y2="344.4" stroke="#999" stroke-width="0.8" />
<line x1="436.67" y1="633.8" x2="436.67" y2="631.3" stroke="#aaa" stroke-width="0.8" />
<line x1="440.27" y1="341.9" x2="440.27" y2="344.4" stroke="#999" stroke-width="0.8" />
<line x1="440.27" y1="633.8" x2="440.27" y2="631.3" stroke="#aaa" stroke-width="0.8" />
<line x1="443.45" y1="341.9" x2="443.45" y2="344.4" stroke="#999" stroke-width="0.8" />
<line x1="443.45" y1="633.8" x2="443.45" y2="631.3" stroke="#aaa" stroke-width="0.8" />
<line x1="446.3" y1="341.9" x2="446.3" y2="346.4" stroke="#999" stroke-width="0.8" />
<line x1="446.3" y1="633.8" x2="446.3" y2="629.3" stroke="#aaa" stroke-width="0.8" />
<line x1="465.02" y1="341.9" x2="465.02" y2="344.4" stroke="#999" stroke-width="0.8" />
<line x1="465.02" y1="633.8" x2="465.02" y2="631.3" stroke="#aaa" stroke-width="0.8" />
<line x1="475.98" y1="341.9" x2="475.98" y2="344.4" stroke="#999" stroke-width="0.8" />
<line x1="475.98" y1="633.8" x2="475.98" y2="631.3" stroke="#aaa" stroke-width="0.8" />
<line x1="483.75" y1="341.9" x2="483.75" y2="344.4" stroke="#999" stroke-width="0.8" />
<line x1="483.75" y1="633.8" x2="483.75" y2="631.3" stroke="#aaa" stroke-width="0.8" />
<line x1="489.78" y1="341.9" x2="489.78" y2="344.4" stroke="#999" stroke-width="0.8" />
<line x1="489.78" y1="633.8" x2="489.78" y2="631.3" stroke="#aaa" stroke-width="0.8" />
<line x1="494.7" y1="341.9" x2="494.7" y2="344.4" stroke="#999" stroke-width="0.8" />
<line x1="494.7" y1="633.8" x2="494.7" y2="631.3" stroke="#aaa" stroke-width="0.8" />
<line x1="498.87" y1="341.9" x2="498.87" y2="344.4" stroke="#999" stroke-width="0.8" />
<line x1="498.87" y1="633.8" x2="498.87" y2="631.3" stroke="#aaa" stroke-width="0.8" />
<line x1="502.47" y1="341.9" x2="502.47" y2="344.4" stroke="#999" stroke-width="0.8" />
<line x1="502.47" y1="633.8" x2="502.47" y2="631.3" stroke="#aaa" stroke-width="0.8" />
<line x1="505.65" y1="341.9" x2="505.65" y2="344.4" stroke="#999" stroke-width="0.8" />
<line x1="505.65" y1="633.8" x2="505.65" y2="631.3" stroke="#aaa" stroke-width="0.8" />
<line x1="508.5" y1="341.9" x2="508.5" y2="346.4" stroke="#999" stroke-width="0.8" />
<line x1="508.5" y1="633.8" x2="508.5" y2="629.3" stroke="#aaa" stroke-width="0.8" />
<line x1="527.22" y1="341.9" x2="527.22" y2="344.4" stroke="#999" stroke-width="0.8" />
<line x1="527.22" y1="633.8" x2="527.22" y2="631.3" stroke="#aaa" stroke-width="0.8" />
<line x1="538.18" y1="341.9" x2="538.18" y2="344.4" stroke="#999" stroke-width="0.8" />
<line x1="538.18" y1="633.8" x2="538.18" y2="631.3" stroke="#aaa" stroke-width="0.8" />
<line x1="545.95" y1="341.9" x2="545.95" y2="344.4" stroke="#999" stroke-width="0.8" />
<line x1="545.95" y1="633.8" x2="545.95" y2="631.3" stroke="#aaa" stroke-width="0.8" />
<line x1="551.98" y1="341.9" x2="551.98" y2="344.4" stroke="#999" stroke-width="0.8" />
<line x1="551.98" y1="633.8" x2="551.98" y2="631.3" stroke="#aaa" stroke-width="0.8" />
<line x1="556.9" y1="341.9" x2="556.9" y2="344.4" stroke="#999" stroke-width="0.8" />
<line x1="556.9" y1="633.8" x2="556.9" y2="631.3" stroke="#aaa" stroke-width="0.8" />
<line x1="561.07" y1="341.9" x2="561.07" y2="344.4" stroke="#999" stroke-width="0.8" />
<line x1="561.07" y1="633.8" x2="561.07" y2="631.3" stroke="#aaa" stroke-width="0.8" />
<line x1="564.67" y1="341.9" x2="564.67" y2="344.4" stroke="#999" stroke-width="0.8" />
<line x1="564.67" y1="633.8" x2="564.67" y2="631.3" stroke="#aaa" stroke-width="0.8" />
<line x1="567.85" y1="341.9" x2="567.85" y2="344.4" stroke="#999" stroke-width="0.8" />
<line x1="567.85" y1="633.8" x2="567.85" y2="631.3" stroke="#aaa" stroke-width="0.8" />
<line x1="570.7" y1="341.9" x2="570.7" y2="346.4" stroke="#999" stroke-width="0.8" />
<line x1="570.7" y1="633.8" x2="570.7" y2="629.3" stroke="#aaa" stroke-width="0.8" />
<line x1="589.42" y1="341.9" x2="589.42" y2="344.4" stroke="#999" stroke-width="0.8" />
<line x1="589.42" y1="633.8" x2="589.42" y2="631.3" stroke="#aaa" stroke-width="0.8" />
<line x1="600.38" y1="341.9" x2="600.38" y2="344.4" stroke="#999" stroke-width="0.8" />
<line x1="600.38" y1="633.8" x2="600.38" y2="631.3" stroke="#aaa" stroke-width="0.8" />
<line x1="608.15" y1="341.9" x2="608.15" y2="344.4" stroke="#999" stroke-width="0.8" />
<line x1="608.15" y1="633.8" x2="608.15" y2="631.3" stroke="#aaa" stroke-width="0.8" />
<line x1="614.18" y1="341.9" x2="614.18" y2="344.4" stroke="#999" stroke-width="0.8" />
<line x1="614.18" y1="633.8" x2="614.18" y2="631.3" stroke="#aaa" stroke-width="0.8" />
<line x1="619.1" y1="341.9" x2="619.1" y2="344.4" stroke="#999" stroke-width="0.8" />
<line x1="619.1" y1="633.8" x2="619.1" y2="631.3" stroke="#aaa" stroke-width="0.8" />
<line x1="623.27" y1="341.9" x2="623.27" y2="344.4" stroke="#999" stroke-width="0.8" />
<line x1="623.27" y1="633.8" x2="623.27" y2="631.3" stroke="#aaa" stroke-width="0.8" />
<line x1="626.87" y1="341.9" x2="626.87" y2="344.4" stroke="#999" stroke-width="0.8" />
<line x1="626.87" y1="633.8" x2="626.87" y2="631.3" stroke="#aaa" stroke-width="0.8" />
<line x1="630.05" y1="341.9" x2="630.05" y2="344.4" stroke="#999" stroke-width="0.8" />
<line x1="630.05" y1="633.8" x2="630.05" y2="631.3" stroke="#aaa" stroke-width="0.8" />
<line x1="632.9" y1="341.9" x2="632.9" y2="346.4" stroke="#999" stroke-width="0.8" />
<line x1="632.9" y1="633.8" x2="632.9" y2="629.3" stroke="#aaa" stroke-width="0.8" />
<line x1="651.62" y1="341.9" x2="651.62" y2="344.4" stroke="#999" stroke-width="0.8" />
<line x1="651.62" y1="633.8" x2="651.62" y2="631.3" stroke="#aaa" stroke-width="0.8" />
<line x1="662.58" y1="341.9" x2="662.58" y2="344.4" stroke="#999" stroke-width="0.8" />
<line x1="662.58" y1="633.8" x2="662.58" y2="631.3" stroke="#aaa" stroke-width="0.8" />
<line x1="670.35" y1="341.9" x2="670.35" y2="344.4" stroke="#999" stroke-width="0.8" />
<line x1="670.35" y1="633.8" x2="670.35" y2="631.3" stroke="#aaa" stroke-width="0.8" />
<line x1="676.38" y1="341.9" x2="676.38" y2="344.4" stroke="#999" stroke-width="0.8" />
<line x1="676.38" y1="633.8" x2="676.38" y2="631.3" stroke="#aaa" stroke-width="0.8" />
<text x="416.4" y="379.3" font-size="14.5" text-anchor="end" fill="#111" font-weight="normal" >0.16</text>
<text x="416.4" y="444.1" font-size="14.5" text-anchor="end" fill="#111" font-weight="normal" >0.12</text>
<text x="416.4" y="508.9" font-size="14.5" text-anchor="end" fill="#111" font-weight="normal" >0.08</text>
<text x="416.4" y="573.7" font-size="14.5" text-anchor="end" fill="#111" font-weight="normal" >0.04</text>
<text x="416.4" y="638.5" font-size="14.5" text-anchor="end" fill="#111" font-weight="normal" >0</text>
<text x="465" y="656.7" font-size="14.5" text-anchor="middle" fill="#111" font-weight="normal" >10</text>
<text x="521" y="656.7" font-size="14.5" text-anchor="middle" fill="#111" font-weight="normal" >100</text>
<text x="577" y="656.7" font-size="14.5" text-anchor="middle" fill="#111" font-weight="normal" >1000</text>
<text x="623" y="657" font-size="14.5" fill="#111">10<tspan font-size="11" dy="-6.5">4</tspan></text>
<text x="537.6" y="680.3" font-size="15" fill="#111"><tspan font-style="italic">t</tspan><tspan font-size="11" dy="3.6">w</tspan><tspan dy="-3.6"> (s)</tspan></text>
<text transform="translate(375,490) rotate(-90)" font-size="15" text-anchor="middle" fill="#111"><tspan font-style="italic">Δμ</tspan><tspan font-size="11" dy="3.6">0</tspan><tspan dy="-3.6"> </tspan><tspan font-style="italic">H</tspan> (T)</text>
<path d="M483.6,633.9 C486.75,633.9 496.27,633.97 502.5,633.9 C508.73,633.83 514.73,633.57 521,633.5 C527.27,633.43 533.85,633.63 540.1,633.5 C546.35,633.37 552.57,632.83 558.5,632.7 C564.43,632.57 569.75,632.7 575.7,632.7 C581.65,632.7 587.82,632.7 594.2,632.7 C600.58,632.7 607.62,632.7 614,632.7 C620.38,632.7 627.85,632.7 632.5,632.7 C637.15,632.7 639.22,632.7 641.9,632.7 C644.58,632.7 642.43,632.93 648.6,632.7 C654.77,632.47 673.85,631.53 678.9,631.3" stroke="#aaa" stroke-width="0.7" fill="none"/>
<path d="M455.3,633.9 C457.53,633.9 460.83,633.97 468.7,633.9 C476.57,633.83 490.6,633.68 502.5,633.5 C514.4,633.32 530.68,633.05 540.1,632.8 C549.52,632.55 553.07,632.32 559,632 C564.93,631.68 571.8,631.17 575.7,630.9 C579.6,630.63 579.32,630.58 582.4,630.4 C585.48,630.22 588.93,630.2 594.2,629.8 C599.47,629.4 608.92,628.48 614,628 C619.08,627.52 621.62,627.13 624.7,626.9 C627.78,626.67 629.63,626.72 632.5,626.6 C635.37,626.48 639.22,626.45 641.9,626.2 C644.58,625.95 646.57,625.37 648.6,625.1 C650.63,624.83 653.18,624.68 654.1,624.6" stroke="#7cc07c" stroke-width="0.7" fill="none"/>
<path d="M446.3,633.5 C451.22,633.5 467.77,633.85 475.8,633.5 C483.83,633.15 488.23,632.02 494.5,631.4 C500.77,630.78 507.17,630.63 513.4,629.8 C519.63,628.97 525.67,627.75 531.9,626.4 C538.13,625.05 544.35,623.52 550.8,621.7 C557.25,619.88 564.22,617.72 570.6,615.5 C576.98,613.28 584.53,610.12 589.1,608.4 C593.67,606.68 594.85,606.4 598,605.2 C601.15,604 603.25,603.27 608,601.2 C612.75,599.13 621.57,594.98 626.5,592.8 C631.43,590.62 634.48,589.4 637.6,588.1 C640.72,586.8 643.93,585.52 645.2,585" stroke="#f08080" stroke-width="0.7" fill="none"/>
<path d="M428.7,634.1 C431.67,633.48 441.77,631.77 446.5,630.4 C451.23,629.03 452.05,628.17 457.1,625.9 C462.15,623.63 470.47,620.35 476.8,616.8 C483.13,613.25 489,609.65 495.1,604.6 C501.2,599.55 507.23,593.85 513.4,586.5 C519.57,579.15 525.85,570.82 532.1,560.5 C538.35,550.18 544.72,538.7 550.9,524.6 C557.08,510.5 563.02,492.33 569.2,475.9 C575.38,459.47 581.7,442.18 588,426 C594.3,409.82 600.72,390.02 607,378.8 C613.28,367.58 619.47,362.8 625.7,358.7 C631.93,354.6 638.17,354.95 644.4,354.2 C650.63,353.45 659.98,354.2 663.1,354.2" stroke="#8080ff" stroke-width="0.7" fill="none"/>
<path d="M483.6,633.9h0M502.5,633.9h0M521,633.5h0M540.1,633.5h0M558.5,632.7h0M575.7,632.7h0M594.2,632.7h0M614,632.7h0M632.5,632.7h0M641.9,632.7h0M648.6,632.7h0M678.9,631.3h0" stroke="#000" stroke-width="4.6" stroke-linecap="round" fill="none" />
<path d="M455.3,633.9h0M468.7,633.9h0M502.5,633.5h0M540.1,632.8h0M559,632h0M575.7,630.9h0M582.4,630.4h0M594.2,629.8h0M614,628h0M624.7,626.9h0M632.5,626.6h0M641.9,626.2h0M648.6,625.1h0M654.1,624.6h0" stroke="#157a20" stroke-width="4.6" stroke-linecap="round" fill="none" />
<path d="M446.3,633.5h0M475.8,633.5h0M494.5,631.4h0M513.4,629.8h0M531.9,626.4h0M550.8,621.7h0M570.6,615.5h0M589.1,608.4h0M598,605.2h0M608,601.2h0M626.5,592.8h0M637.6,588.1h0M645.2,585h0" stroke="#cc1010" stroke-width="4.6" stroke-linecap="round" fill="none" />
<path d="M428.7,634.1h0M446.5,630.4h0M457.1,625.9h0M476.8,616.8h0M495.1,604.6h0M513.4,586.5h0M532.1,560.5h0M550.9,524.6h0M569.2,475.9h0M607,378.8h0M625.7,358.7h0M644.4,354.2h0M663.1,354.2h0" stroke="#0a0ae0" stroke-width="4.6" stroke-linecap="round" fill="none" />
<rect x="574" y="416" width="30" height="15" fill="#fff"/>
<text x="575.3" y="428.7" font-size="13.1" text-anchor="start" fill="#1515cc" font-weight="normal" >HTO</text>
<text x="598" y="584.5" font-size="12.6" fill="#cc1a1a"><tspan font-size="9.2" dy="-5">163</tspan><tspan dy="5">Dy</tspan></text>
<text x="639.2" y="571.6" font-size="12.6" fill="#000"><tspan font-size="9.2" dy="-5">162</tspan><tspan dy="5">Dy</tspan></text>
<text x="614.5" y="620.6" font-size="13.3" text-anchor="start" fill="#157a20" font-weight="normal" >DTO</text>
<line x1="669.7" y1="577.8" x2="669.7" y2="624" stroke="#aaa" stroke-width="0.8" />
<path d="M669.7,630.2 L672.5,622.8 L669.7,622.8 L666.9,622.8Z" fill="#000"/>
</svg></body></html>
